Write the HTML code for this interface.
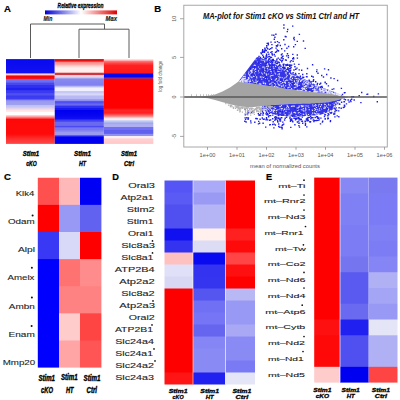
<!DOCTYPE html>
<html><head><meta charset="utf-8"><style>
html,body{margin:0;padding:0;background:#fff;width:400px;height:400px;overflow:hidden}
svg{display:block}
text{font-family:"Liberation Sans", sans-serif}
</style></head><body>
<svg width="400" height="400" viewBox="0 0 400 400">
<defs><linearGradient id="leg" x1="0" y1="0" x2="1" y2="0"><stop offset="0" stop-color="#0000d8"/><stop offset="0.5" stop-color="#ffffff"/><stop offset="1" stop-color="#e00000"/></linearGradient><linearGradient id="ga1" gradientUnits="userSpaceOnUse" x1="0" y1="59.10" x2="0" y2="143.90"><stop offset="0.0000" stop-color="#0a0af0"/><stop offset="0.1616" stop-color="#1010f0"/><stop offset="0.1710" stop-color="#a0a0f0"/><stop offset="0.1792" stop-color="#ffd0d8"/><stop offset="0.1899" stop-color="#ffb0b0"/><stop offset="0.1969" stop-color="#e80808"/><stop offset="0.2276" stop-color="#ff0a0a"/><stop offset="0.2382" stop-color="#9060c0"/><stop offset="0.2500" stop-color="#7070f0"/><stop offset="0.2724" stop-color="#6a6af0"/><stop offset="0.2818" stop-color="#4848f0"/><stop offset="0.3031" stop-color="#4848f0"/><stop offset="0.3113" stop-color="#3030f0"/><stop offset="0.3337" stop-color="#3030f0"/><stop offset="0.3408" stop-color="#2020f0"/><stop offset="0.3644" stop-color="#2020f0"/><stop offset="0.3715" stop-color="#3a3af0"/><stop offset="0.3998" stop-color="#3a3af0"/><stop offset="0.4068" stop-color="#5050f0"/><stop offset="0.4269" stop-color="#5050f0"/><stop offset="0.4328" stop-color="#3838f0"/><stop offset="0.4705" stop-color="#4040f0"/><stop offset="0.4823" stop-color="#8080f0"/><stop offset="0.4941" stop-color="#9898f0"/><stop offset="0.5354" stop-color="#a0a0f0"/><stop offset="0.5472" stop-color="#c0c0f5"/><stop offset="0.5649" stop-color="#c8c8f2"/><stop offset="0.5767" stop-color="#d8d0f0"/><stop offset="0.6002" stop-color="#ffe0e0"/><stop offset="0.6179" stop-color="#ffeaea"/><stop offset="0.6297" stop-color="#ffffff"/><stop offset="0.6533" stop-color="#ffffff"/><stop offset="0.6651" stop-color="#ffd0d0"/><stop offset="0.6828" stop-color="#ff9090"/><stop offset="0.7005" stop-color="#ff4040"/><stop offset="0.7123" stop-color="#ff0808"/><stop offset="0.8833" stop-color="#ff0a0a"/><stop offset="0.9422" stop-color="#ff3030"/><stop offset="1.0000" stop-color="#ff4848"/></linearGradient><linearGradient id="ga2" gradientUnits="userSpaceOnUse" x1="0" y1="59.10" x2="0" y2="143.90"><stop offset="0.0000" stop-color="#d80000"/><stop offset="0.0248" stop-color="#e81818"/><stop offset="0.0342" stop-color="#ff8080"/><stop offset="0.0637" stop-color="#ffa8a8"/><stop offset="0.0814" stop-color="#ffd0d0"/><stop offset="0.1073" stop-color="#fff0f0"/><stop offset="0.1545" stop-color="#fff0f0"/><stop offset="0.1639" stop-color="#e06060"/><stop offset="0.1733" stop-color="#c02020"/><stop offset="0.1851" stop-color="#d04050"/><stop offset="0.1934" stop-color="#f0c8d8"/><stop offset="0.2134" stop-color="#e0d8f0"/><stop offset="0.2229" stop-color="#b0b0f0"/><stop offset="0.2406" stop-color="#8888f0"/><stop offset="0.3054" stop-color="#8080f0"/><stop offset="0.3172" stop-color="#a0a0f0"/><stop offset="0.3290" stop-color="#d0d0f5"/><stop offset="0.3467" stop-color="#f0f0ff"/><stop offset="0.3703" stop-color="#f0f0ff"/><stop offset="0.3821" stop-color="#c8c8f5"/><stop offset="0.3974" stop-color="#c8c8f5"/><stop offset="0.4092" stop-color="#d8d8f8"/><stop offset="0.4233" stop-color="#d8d8f8"/><stop offset="0.4351" stop-color="#b8b8f5"/><stop offset="0.4682" stop-color="#b8b8f5"/><stop offset="0.4800" stop-color="#9090f0"/><stop offset="0.4894" stop-color="#9090f0"/><stop offset="0.5012" stop-color="#5050f0"/><stop offset="0.5177" stop-color="#5050f0"/><stop offset="0.5283" stop-color="#6868f0"/><stop offset="0.5436" stop-color="#6868f0"/><stop offset="0.5531" stop-color="#3030f0"/><stop offset="0.5708" stop-color="#3030f0"/><stop offset="0.5802" stop-color="#1818f0"/><stop offset="0.5979" stop-color="#1818f0"/><stop offset="0.6061" stop-color="#0000f0"/><stop offset="0.6592" stop-color="#0505f0"/><stop offset="0.7064" stop-color="#1010f0"/><stop offset="0.7182" stop-color="#4040f0"/><stop offset="0.7323" stop-color="#4040f0"/><stop offset="0.7441" stop-color="#6a6af0"/><stop offset="0.7818" stop-color="#6a6af0"/><stop offset="0.7913" stop-color="#4a4af0"/><stop offset="0.8007" stop-color="#4a4af0"/><stop offset="0.8101" stop-color="#7878f0"/><stop offset="0.8361" stop-color="#7878f0"/><stop offset="0.8455" stop-color="#8a8af0"/><stop offset="0.8538" stop-color="#8a8af0"/><stop offset="0.8632" stop-color="#9a9af0"/><stop offset="0.8927" stop-color="#9a9af0"/><stop offset="0.9021" stop-color="#5050f0"/><stop offset="0.9127" stop-color="#2020f0"/><stop offset="0.9210" stop-color="#0000f0"/><stop offset="0.9965" stop-color="#0000f0"/></linearGradient><linearGradient id="ga3" gradientUnits="userSpaceOnUse" x1="0" y1="59.10" x2="0" y2="143.90"><stop offset="0.0024" stop-color="#ffe0e0"/><stop offset="0.0165" stop-color="#ffb0b0"/><stop offset="0.0283" stop-color="#ff7070"/><stop offset="0.0519" stop-color="#ff4040"/><stop offset="0.0755" stop-color="#ff2020"/><stop offset="0.1580" stop-color="#ff1818"/><stop offset="0.1675" stop-color="#c01060"/><stop offset="0.1757" stop-color="#0505f0"/><stop offset="0.2111" stop-color="#0505f0"/><stop offset="0.2229" stop-color="#6040c0"/><stop offset="0.2370" stop-color="#ff0000"/><stop offset="0.5708" stop-color="#ff0000"/><stop offset="0.5884" stop-color="#ff1010"/><stop offset="0.6002" stop-color="#ff2828"/><stop offset="0.6356" stop-color="#ff2020"/><stop offset="0.6545" stop-color="#ff5050"/><stop offset="0.6769" stop-color="#ff9090"/><stop offset="0.6946" stop-color="#ffd8d8"/><stop offset="0.7040" stop-color="#fff0f0"/><stop offset="0.7182" stop-color="#f0f0f8"/><stop offset="0.7276" stop-color="#c0c8f0"/><stop offset="0.7417" stop-color="#c0c8f0"/><stop offset="0.7512" stop-color="#a0a8f0"/><stop offset="0.7653" stop-color="#a0a8f0"/><stop offset="0.7724" stop-color="#b0b0f0"/><stop offset="0.7948" stop-color="#b0b0f0"/><stop offset="0.8042" stop-color="#7070f0"/><stop offset="0.8290" stop-color="#7070f0"/><stop offset="0.8384" stop-color="#6060f0"/><stop offset="0.8762" stop-color="#6060f0"/><stop offset="0.8856" stop-color="#9090f0"/><stop offset="0.9021" stop-color="#9090f0"/><stop offset="0.9127" stop-color="#f8f0f8"/><stop offset="0.9304" stop-color="#f8f0f8"/><stop offset="0.9399" stop-color="#ffd0d0"/><stop offset="0.9941" stop-color="#ffc8c8"/></linearGradient><linearGradient id="hc1" gradientUnits="userSpaceOnUse" x1="0" y1="177.75" x2="0" y2="367.60"><stop offset="0.0000" stop-color="#ff5050"/><stop offset="0.1402" stop-color="#ff5050"/><stop offset="0.1455" stop-color="#ff0000"/><stop offset="0.2831" stop-color="#ff0000"/><stop offset="0.2883" stop-color="#3838f5"/><stop offset="0.4259" stop-color="#3838f5"/><stop offset="0.4312" stop-color="#0000ff"/><stop offset="0.5688" stop-color="#0000ff"/><stop offset="0.5741" stop-color="#0000ff"/><stop offset="0.7117" stop-color="#0000ff"/><stop offset="0.7169" stop-color="#0000ff"/><stop offset="0.8545" stop-color="#0000ff"/><stop offset="0.8598" stop-color="#0000ff"/><stop offset="1.0000" stop-color="#0000ff"/></linearGradient><linearGradient id="hc2" gradientUnits="userSpaceOnUse" x1="0" y1="177.75" x2="0" y2="367.60"><stop offset="0.0000" stop-color="#ffb8b8"/><stop offset="0.1402" stop-color="#ffb8b8"/><stop offset="0.1455" stop-color="#9898f5"/><stop offset="0.2831" stop-color="#9898f5"/><stop offset="0.2883" stop-color="#d8d8f8"/><stop offset="0.4259" stop-color="#d8d8f8"/><stop offset="0.4312" stop-color="#ff7272"/><stop offset="0.5688" stop-color="#ff7272"/><stop offset="0.5741" stop-color="#ff8282"/><stop offset="0.7117" stop-color="#ff8282"/><stop offset="0.7169" stop-color="#ffcccc"/><stop offset="0.8545" stop-color="#ffcccc"/><stop offset="0.8598" stop-color="#ffa5a5"/><stop offset="1.0000" stop-color="#ffa5a5"/></linearGradient><linearGradient id="hc3" gradientUnits="userSpaceOnUse" x1="0" y1="177.75" x2="0" y2="367.60"><stop offset="0.0000" stop-color="#0000f5"/><stop offset="0.1402" stop-color="#0000f5"/><stop offset="0.1455" stop-color="#6262f0"/><stop offset="0.2831" stop-color="#6262f0"/><stop offset="0.2883" stop-color="#ff0000"/><stop offset="0.4259" stop-color="#ff0000"/><stop offset="0.4312" stop-color="#ff8c8c"/><stop offset="0.5688" stop-color="#ff8c8c"/><stop offset="0.5741" stop-color="#ff8282"/><stop offset="0.7117" stop-color="#ff8282"/><stop offset="0.7169" stop-color="#ff4444"/><stop offset="0.8545" stop-color="#ff4444"/><stop offset="0.8598" stop-color="#ff5555"/><stop offset="1.0000" stop-color="#ff5555"/></linearGradient><linearGradient id="hc4" gradientUnits="userSpaceOnUse" x1="0" y1="180.50" x2="0" y2="384.50"><stop offset="0.0000" stop-color="#5555f5"/><stop offset="0.0564" stop-color="#5555f5"/><stop offset="0.0613" stop-color="#5a5af5"/><stop offset="0.1152" stop-color="#5a5af5"/><stop offset="0.1201" stop-color="#5050f0"/><stop offset="0.1740" stop-color="#5050f0"/><stop offset="0.1789" stop-color="#5050f0"/><stop offset="0.2328" stop-color="#5050f0"/><stop offset="0.2377" stop-color="#1010f0"/><stop offset="0.2917" stop-color="#1010f0"/><stop offset="0.2966" stop-color="#3333f0"/><stop offset="0.3505" stop-color="#3333f0"/><stop offset="0.3554" stop-color="#ffc0c0"/><stop offset="0.4093" stop-color="#ffc0c0"/><stop offset="0.4142" stop-color="#e0e0f8"/><stop offset="0.4681" stop-color="#e0e0f8"/><stop offset="0.4730" stop-color="#d8d8f5"/><stop offset="0.5270" stop-color="#d8d8f5"/><stop offset="0.5319" stop-color="#ff0000"/><stop offset="0.5858" stop-color="#ff0000"/><stop offset="0.5907" stop-color="#ff0000"/><stop offset="0.6446" stop-color="#ff0000"/><stop offset="0.6495" stop-color="#ff0000"/><stop offset="0.7034" stop-color="#ff0000"/><stop offset="0.7083" stop-color="#ff0000"/><stop offset="0.7623" stop-color="#ff0000"/><stop offset="0.7672" stop-color="#ff0000"/><stop offset="0.8211" stop-color="#ff0000"/><stop offset="0.8260" stop-color="#ff0000"/><stop offset="0.8799" stop-color="#ff0000"/><stop offset="0.8848" stop-color="#ff0000"/><stop offset="0.9387" stop-color="#ff0000"/><stop offset="0.9436" stop-color="#ff1515"/><stop offset="1.0000" stop-color="#ff1515"/></linearGradient><linearGradient id="hc5" gradientUnits="userSpaceOnUse" x1="0" y1="180.50" x2="0" y2="384.50"><stop offset="0.0000" stop-color="#aaaaf8"/><stop offset="0.0564" stop-color="#aaaaf8"/><stop offset="0.0613" stop-color="#9a9af5"/><stop offset="0.1152" stop-color="#9a9af5"/><stop offset="0.1201" stop-color="#b5b5f5"/><stop offset="0.1740" stop-color="#b5b5f5"/><stop offset="0.1789" stop-color="#b5b5f5"/><stop offset="0.2328" stop-color="#b5b5f5"/><stop offset="0.2377" stop-color="#fff0ee"/><stop offset="0.2917" stop-color="#fff0ee"/><stop offset="0.2966" stop-color="#dcdcf5"/><stop offset="0.3505" stop-color="#dcdcf5"/><stop offset="0.3554" stop-color="#0a0af0"/><stop offset="0.4093" stop-color="#0a0af0"/><stop offset="0.4142" stop-color="#3333f0"/><stop offset="0.4681" stop-color="#3333f0"/><stop offset="0.4730" stop-color="#3535f0"/><stop offset="0.5270" stop-color="#3535f0"/><stop offset="0.5319" stop-color="#5555f0"/><stop offset="0.5858" stop-color="#5555f0"/><stop offset="0.5907" stop-color="#7070f5"/><stop offset="0.6446" stop-color="#7070f5"/><stop offset="0.6495" stop-color="#7575f5"/><stop offset="0.7034" stop-color="#7575f5"/><stop offset="0.7083" stop-color="#6565f0"/><stop offset="0.7623" stop-color="#6565f0"/><stop offset="0.7672" stop-color="#8585f5"/><stop offset="0.8211" stop-color="#8585f5"/><stop offset="0.8260" stop-color="#8a8af5"/><stop offset="0.8799" stop-color="#8a8af5"/><stop offset="0.8848" stop-color="#8a8af5"/><stop offset="0.9387" stop-color="#8a8af5"/><stop offset="0.9436" stop-color="#2020f0"/><stop offset="1.0000" stop-color="#2020f0"/></linearGradient><linearGradient id="hc6" gradientUnits="userSpaceOnUse" x1="0" y1="180.50" x2="0" y2="384.50"><stop offset="0.0000" stop-color="#ff0000"/><stop offset="0.0564" stop-color="#ff0000"/><stop offset="0.0613" stop-color="#ff0000"/><stop offset="0.1152" stop-color="#ff0000"/><stop offset="0.1201" stop-color="#ff0000"/><stop offset="0.1740" stop-color="#ff0000"/><stop offset="0.1789" stop-color="#ff0000"/><stop offset="0.2328" stop-color="#ff0000"/><stop offset="0.2377" stop-color="#ff2020"/><stop offset="0.2917" stop-color="#ff2020"/><stop offset="0.2966" stop-color="#ff0a0a"/><stop offset="0.3505" stop-color="#ff0a0a"/><stop offset="0.3554" stop-color="#ff4545"/><stop offset="0.4093" stop-color="#ff4545"/><stop offset="0.4142" stop-color="#ff1010"/><stop offset="0.4681" stop-color="#ff1010"/><stop offset="0.4730" stop-color="#ff0000"/><stop offset="0.5270" stop-color="#ff0000"/><stop offset="0.5319" stop-color="#b8b8f5"/><stop offset="0.5858" stop-color="#b8b8f5"/><stop offset="0.5907" stop-color="#9898f5"/><stop offset="0.6446" stop-color="#9898f5"/><stop offset="0.6495" stop-color="#9898f5"/><stop offset="0.7034" stop-color="#9898f5"/><stop offset="0.7083" stop-color="#a8a8f5"/><stop offset="0.7623" stop-color="#a8a8f5"/><stop offset="0.7672" stop-color="#8a8af5"/><stop offset="0.8211" stop-color="#8a8af5"/><stop offset="0.8260" stop-color="#8a8af5"/><stop offset="0.8799" stop-color="#8a8af5"/><stop offset="0.8848" stop-color="#7a7af5"/><stop offset="0.9387" stop-color="#7a7af5"/><stop offset="0.9436" stop-color="#e5e5f8"/><stop offset="1.0000" stop-color="#e5e5f8"/></linearGradient><linearGradient id="hc7" gradientUnits="userSpaceOnUse" x1="0" y1="177.60" x2="0" y2="382.60"><stop offset="0.0000" stop-color="#ff0000"/><stop offset="0.0745" stop-color="#ff0000"/><stop offset="0.0794" stop-color="#ff0000"/><stop offset="0.1514" stop-color="#ff0000"/><stop offset="0.1563" stop-color="#ff0000"/><stop offset="0.2283" stop-color="#ff0000"/><stop offset="0.2332" stop-color="#ff0000"/><stop offset="0.3053" stop-color="#ff0000"/><stop offset="0.3101" stop-color="#ff0000"/><stop offset="0.3822" stop-color="#ff0000"/><stop offset="0.3871" stop-color="#ff0000"/><stop offset="0.4591" stop-color="#ff0000"/><stop offset="0.4640" stop-color="#ff0000"/><stop offset="0.5360" stop-color="#ff0000"/><stop offset="0.5409" stop-color="#ff0000"/><stop offset="0.6129" stop-color="#ff0000"/><stop offset="0.6178" stop-color="#ff0000"/><stop offset="0.6899" stop-color="#ff0000"/><stop offset="0.6947" stop-color="#ff1010"/><stop offset="0.7668" stop-color="#ff1010"/><stop offset="0.7717" stop-color="#ff0808"/><stop offset="0.8437" stop-color="#ff0808"/><stop offset="0.8486" stop-color="#ff0808"/><stop offset="0.9206" stop-color="#ff0808"/><stop offset="0.9255" stop-color="#ffcccc"/><stop offset="1.0000" stop-color="#ffcccc"/></linearGradient><linearGradient id="hc8" gradientUnits="userSpaceOnUse" x1="0" y1="177.60" x2="0" y2="382.60"><stop offset="0.0000" stop-color="#8888f5"/><stop offset="0.0745" stop-color="#8888f5"/><stop offset="0.0794" stop-color="#8080f5"/><stop offset="0.1514" stop-color="#8080f5"/><stop offset="0.1563" stop-color="#8080f5"/><stop offset="0.2283" stop-color="#8080f5"/><stop offset="0.2332" stop-color="#7c7cf5"/><stop offset="0.3053" stop-color="#7c7cf5"/><stop offset="0.3101" stop-color="#7c7cf5"/><stop offset="0.3822" stop-color="#7c7cf5"/><stop offset="0.3871" stop-color="#7575f0"/><stop offset="0.4591" stop-color="#7575f0"/><stop offset="0.4640" stop-color="#5a5af0"/><stop offset="0.5360" stop-color="#5a5af0"/><stop offset="0.5409" stop-color="#5a5af0"/><stop offset="0.6129" stop-color="#5a5af0"/><stop offset="0.6178" stop-color="#6a6af0"/><stop offset="0.6899" stop-color="#6a6af0"/><stop offset="0.6947" stop-color="#2020f0"/><stop offset="0.7668" stop-color="#2020f0"/><stop offset="0.7717" stop-color="#5050f0"/><stop offset="0.8437" stop-color="#5050f0"/><stop offset="0.8486" stop-color="#5050f0"/><stop offset="0.9206" stop-color="#5050f0"/><stop offset="0.9255" stop-color="#0000f0"/><stop offset="1.0000" stop-color="#0000f0"/></linearGradient><linearGradient id="hc9" gradientUnits="userSpaceOnUse" x1="0" y1="177.60" x2="0" y2="382.60"><stop offset="0.0000" stop-color="#7a7af0"/><stop offset="0.0745" stop-color="#7a7af0"/><stop offset="0.0794" stop-color="#7b7bf5"/><stop offset="0.1514" stop-color="#7b7bf5"/><stop offset="0.1563" stop-color="#7b7bf5"/><stop offset="0.2283" stop-color="#7b7bf5"/><stop offset="0.2332" stop-color="#8080f5"/><stop offset="0.3053" stop-color="#8080f5"/><stop offset="0.3101" stop-color="#7c7cf5"/><stop offset="0.3822" stop-color="#7c7cf5"/><stop offset="0.3871" stop-color="#8585f5"/><stop offset="0.4591" stop-color="#8585f5"/><stop offset="0.4640" stop-color="#b0b0f5"/><stop offset="0.5360" stop-color="#b0b0f5"/><stop offset="0.5409" stop-color="#a5a5f5"/><stop offset="0.6129" stop-color="#a5a5f5"/><stop offset="0.6178" stop-color="#9898f5"/><stop offset="0.6899" stop-color="#9898f5"/><stop offset="0.6947" stop-color="#e5e5f8"/><stop offset="0.7668" stop-color="#e5e5f8"/><stop offset="0.7717" stop-color="#b0b0f5"/><stop offset="0.8437" stop-color="#b0b0f5"/><stop offset="0.8486" stop-color="#b0b0f5"/><stop offset="0.9206" stop-color="#b0b0f5"/><stop offset="0.9255" stop-color="#ff4444"/><stop offset="1.0000" stop-color="#ff4444"/></linearGradient></defs>
<rect width="400" height="400" fill="#ffffff"/>
<text x="4.00" y="12.20" font-size="9.60" stroke="#000" stroke-width="0.20" font-weight="bold" fill="#000" >A</text>
<text x="57.60" y="7.60" font-size="7.00" stroke="#000" stroke-width="0.30" font-weight="bold" font-style="italic" fill="#000" textLength="46.00" lengthAdjust="spacingAndGlyphs" >Relative expression</text>
<rect x="45.00" y="10.40" width="72.00" height="4.00" fill="url(#leg)" />
<text x="43.60" y="21.20" font-size="7.60" stroke="#1a1a1a" stroke-width="0.20" font-weight="bold" font-style="italic" fill="#1a1a1a" textLength="8.80" lengthAdjust="spacingAndGlyphs" >Min</text>
<text x="105.60" y="21.20" font-size="7.60" stroke="#1a1a1a" stroke-width="0.20" font-weight="bold" font-style="italic" fill="#1a1a1a" textLength="11.40" lengthAdjust="spacingAndGlyphs" >Max</text>
<path d="M30.5 58 V24 H104.5 V29.2 M79 58 V29.2 H129 V58" fill="none" stroke="#5a5a5a" stroke-width="1"/>
<rect x="6.00" y="59.10" width="48.75" height="84.80" fill="url(#ga1)" />
<rect x="54.75" y="59.10" width="49.15" height="84.80" fill="url(#ga2)" />
<rect x="103.90" y="59.10" width="49.40" height="84.80" fill="url(#ga3)" />
<text x="30.90" y="155.90" font-size="7.90" stroke="#000" stroke-width="0.40" text-anchor="middle" font-weight="bold" font-style="italic" fill="#000" textLength="16.20" lengthAdjust="spacingAndGlyphs" >Stim1</text>
<text x="31.50" y="165.80" font-size="7.90" stroke="#000" stroke-width="0.40" text-anchor="middle" font-weight="bold" font-style="italic" fill="#000" textLength="10.50" lengthAdjust="spacingAndGlyphs" >cKO</text>
<text x="82.50" y="156.00" font-size="7.90" stroke="#000" stroke-width="0.40" text-anchor="middle" font-weight="bold" font-style="italic" fill="#000" textLength="17.00" lengthAdjust="spacingAndGlyphs" >Stim1</text>
<text x="82.50" y="166.00" font-size="7.90" stroke="#000" stroke-width="0.40" text-anchor="middle" font-weight="bold" font-style="italic" fill="#000" textLength="7.00" lengthAdjust="spacingAndGlyphs" >HT</text>
<text x="129.00" y="156.00" font-size="7.90" stroke="#000" stroke-width="0.40" text-anchor="middle" font-weight="bold" font-style="italic" fill="#000" textLength="16.00" lengthAdjust="spacingAndGlyphs" >Stim1</text>
<text x="129.00" y="166.00" font-size="7.90" stroke="#000" stroke-width="0.40" text-anchor="middle" font-weight="bold" font-style="italic" fill="#000" textLength="10.00" lengthAdjust="spacingAndGlyphs" >Ctrl</text>
<text x="154.20" y="12.10" font-size="9.60" stroke="#000" stroke-width="0.20" font-weight="bold" fill="#000" >B</text>
<polygon points="185.0,96.8 200.0,96.4 208.0,95.8 215.0,94.5 222.5,91.5 230.0,87.5 235.0,84.0 238.5,81.5 255.0,84.0 266.0,85.5 281.0,87.8 296.0,90.0 311.0,91.8 326.0,93.0 335.0,94.3 342.0,96.0 348.0,96.8 348.0,97.3 342.0,98.5 336.0,100.5 328.0,102.2 315.0,103.2 300.0,103.7 285.0,104.3 270.0,105.2 260.0,106.5 250.0,107.3 240.0,106.4 230.0,104.2 222.0,102.0 215.0,99.9 208.0,98.3 200.0,97.6 185.0,97.3" fill="#a4a4a4"/>
<polygon points="238.5,81.5 240.0,79.5 241.5,77.5 243.0,75.5 244.5,73.5 246.0,71.5 247.5,69.5 249.0,67.5 250.5,65.5 252.0,63.5 253.5,61.5 255.0,59.5 256.5,57.4 258.0,57.1 259.5,57.5 261.0,58.0 262.5,58.4 264.0,58.9 265.5,59.3 267.0,59.8 268.5,60.3 270.0,61.1 271.5,62.0 273.0,62.9 274.5,63.8 276.0,64.7 277.5,65.7 279.0,66.6 280.5,67.5 282.0,68.3 283.5,69.0 285.0,69.7 286.5,70.4 288.0,71.2 289.5,71.9 291.0,72.6 292.5,73.3 294.0,74.0 295.5,74.8 297.0,75.5 298.5,76.2 300.0,76.9 301.5,77.7 303.0,78.4 304.5,79.1 306.0,79.9 307.5,80.6 309.0,81.3 310.5,82.1 312.0,82.8 313.5,83.6 315.0,84.4 316.5,85.2 318.0,86.0 319.5,86.8 321.0,87.3 322.5,87.8 324.0,88.3 325.5,88.7 327.0,89.3 328.5,89.8 330.0,90.4 331.5,91.0 333.0,91.5 334.5,92.1 336.0,92.7 337.5,93.4 339.0,94.1 340.5,94.7 342.0,95.4 343.5,95.9 345.0,96.4 345.0,96.4 343.5,96.2 342.0,96.0 340.5,95.6 339.0,95.3 337.5,94.9 336.0,94.5 334.5,94.2 333.0,94.0 331.5,93.8 330.0,93.6 328.5,93.4 327.0,93.1 325.5,93.0 324.0,92.8 322.5,92.7 321.0,92.6 319.5,92.5 318.0,92.4 316.5,92.2 315.0,92.1 313.5,92.0 312.0,91.9 310.5,91.7 309.0,91.6 307.5,91.4 306.0,91.2 304.5,91.0 303.0,90.8 301.5,90.7 300.0,90.5 298.5,90.3 297.0,90.1 295.5,89.9 294.0,89.7 292.5,89.5 291.0,89.3 289.5,89.0 288.0,88.8 286.5,88.6 285.0,88.4 283.5,88.2 282.0,87.9 280.5,87.7 279.0,87.5 277.5,87.3 276.0,87.0 274.5,86.8 273.0,86.6 271.5,86.3 270.0,86.1 268.5,85.9 267.0,85.7 265.5,85.4 264.0,85.2 262.5,85.0 261.0,84.8 259.5,84.6 258.0,84.4 256.5,84.2 255.0,84.0 253.5,83.8 252.0,83.5 250.5,83.3 249.0,83.1 247.5,82.9 246.0,82.6 244.5,82.4 243.0,82.2 241.5,82.0 240.0,81.7 238.5,81.5" fill="#3636e6"/>
<polygon points="262.0,109.2 263.5,110.2 265.0,111.1 266.5,111.9 268.0,112.3 269.5,112.7 271.0,113.2 272.5,113.8 274.0,114.3 275.5,114.8 277.0,115.4 278.5,115.7 280.0,115.8 281.5,115.9 283.0,116.0 284.5,116.1 286.0,116.2 287.5,116.3 289.0,116.4 290.5,116.6 292.0,116.7 293.5,116.8 295.0,116.9 296.5,116.8 298.0,116.7 299.5,116.5 301.0,116.4 302.5,116.3 304.0,116.2 305.5,116.1 307.0,116.0 308.5,115.9 310.0,115.8 311.5,115.7 313.0,115.5 314.5,115.4 316.0,115.3 317.5,115.1 319.0,114.9 320.5,114.7 322.0,114.2 323.5,113.7 325.0,113.2 326.5,112.7 328.0,112.2 329.5,111.5 331.0,110.8 332.5,109.8 334.0,108.3 335.5,106.7 337.0,105.0 338.5,103.2 340.0,101.2 341.5,99.2 343.0,98.3 344.5,98.0 346.0,97.7 347.5,97.4 347.5,97.4 346.0,97.7 344.5,98.0 343.0,98.3 341.5,98.7 340.0,99.2 338.5,99.7 337.0,100.2 335.5,100.6 334.0,100.9 332.5,101.2 331.0,101.6 329.5,101.9 328.0,102.2 326.5,102.3 325.0,102.4 323.5,102.5 322.0,102.7 320.5,102.8 319.0,102.9 317.5,103.0 316.0,103.1 314.5,103.2 313.0,103.3 311.5,103.3 310.0,103.4 308.5,103.4 307.0,103.5 305.5,103.5 304.0,103.6 302.5,103.6 301.0,103.7 299.5,103.7 298.0,103.8 296.5,103.8 295.0,103.9 293.5,104.0 292.0,104.0 290.5,104.1 289.0,104.1 287.5,104.2 286.0,104.3 284.5,104.3 283.0,104.4 281.5,104.5 280.0,104.6 278.5,104.7 277.0,104.8 275.5,104.9 274.0,105.0 272.5,105.0 271.0,105.1 269.5,105.3 268.0,105.5 266.5,105.7 265.0,105.8 263.5,106.0 262.0,106.2" fill="#3636e6"/>
<path d="M305.0 82.3h1.1v1.1h-1.1zM323.3 88.3h1.1v1.1h-1.1zM317.4 86.1h1.1v1.1h-1.1zM242.1 79.3h1.1v1.1h-1.1zM339.0 94.3h1.1v1.1h-1.1zM334.5 93.5h1.1v1.1h-1.1zM288.7 84.3h1.1v1.1h-1.1zM296.6 81.4h1.1v1.1h-1.1zM240.4 80.8h1.1v1.1h-1.1zM268.6 62.4h1.1v1.1h-1.1zM320.2 91.2h1.1v1.1h-1.1zM323.5 91.7h1.1v1.1h-1.1zM304.4 89.1h1.1v1.1h-1.1zM239.2 80.6h1.1v1.1h-1.1zM261.2 78.7h1.1v1.1h-1.1zM331.5 92.6h1.1v1.1h-1.1zM296.2 79.7h1.1v1.1h-1.1zM260.7 59.5h1.1v1.1h-1.1zM312.2 83.2h1.1v1.1h-1.1zM333.7 93.1h1.1v1.1h-1.1zM277.3 83.2h1.1v1.1h-1.1zM254.4 81.9h1.1v1.1h-1.1zM270.9 71.2h1.1v1.1h-1.1zM239.4 80.6h1.1v1.1h-1.1zM274.8 79.4h1.1v1.1h-1.1zM325.8 90.7h1.1v1.1h-1.1zM272.5 74.7h1.1v1.1h-1.1zM313.7 91.1h1.1v1.1h-1.1zM241.4 78.6h1.1v1.1h-1.1zM328.6 92.8h1.1v1.1h-1.1zM322.5 90.6h1.1v1.1h-1.1zM300.3 89.9h1.1v1.1h-1.1zM244.0 80.5h1.1v1.1h-1.1zM259.8 64.1h1.1v1.1h-1.1zM337.5 93.5h1.1v1.1h-1.1zM275.5 78.6h1.1v1.1h-1.1zM294.6 77.7h1.1v1.1h-1.1zM250.5 69.9h1.1v1.1h-1.1zM323.5 88.7h1.1v1.1h-1.1zM242.9 76.0h1.1v1.1h-1.1zM248.7 77.6h1.1v1.1h-1.1zM303.7 79.7h1.1v1.1h-1.1zM275.0 65.8h1.1v1.1h-1.1zM296.8 85.2h1.1v1.1h-1.1zM272.6 81.9h1.1v1.1h-1.1zM247.3 80.5h1.1v1.1h-1.1zM312.1 82.9h1.1v1.1h-1.1zM256.1 82.4h1.1v1.1h-1.1zM295.6 83.5h1.1v1.1h-1.1zM264.2 69.4h1.1v1.1h-1.1zM326.6 91.0h1.1v1.1h-1.1zM283.7 86.7h1.1v1.1h-1.1zM336.1 94.0h1.1v1.1h-1.1zM291.3 75.3h1.1v1.1h-1.1zM252.8 67.9h1.1v1.1h-1.1zM339.7 94.6h1.1v1.1h-1.1zM322.5 91.8h1.1v1.1h-1.1zM285.1 85.2h1.1v1.1h-1.1zM328.5 92.0h1.1v1.1h-1.1zM287.0 70.7h1.1v1.1h-1.1zM329.3 90.2h1.1v1.1h-1.1zM287.1 79.7h1.1v1.1h-1.1zM316.3 88.5h1.1v1.1h-1.1zM269.8 75.7h1.1v1.1h-1.1zM254.5 74.6h1.1v1.1h-1.1zM305.5 85.1h1.1v1.1h-1.1zM274.9 84.4h1.1v1.1h-1.1zM267.9 65.6h1.1v1.1h-1.1zM330.9 92.3h1.1v1.1h-1.1zM322.3 88.8h1.1v1.1h-1.1zM312.6 85.9h1.1v1.1h-1.1zM319.5 90.1h1.1v1.1h-1.1zM313.7 89.3h1.1v1.1h-1.1zM290.5 76.1h1.1v1.1h-1.1zM312.2 88.9h1.1v1.1h-1.1zM339.2 94.4h1.1v1.1h-1.1zM300.6 89.9h1.1v1.1h-1.1zM297.0 86.1h1.1v1.1h-1.1zM310.2 86.9h1.1v1.1h-1.1zM325.6 90.1h1.1v1.1h-1.1zM323.5 90.9h1.1v1.1h-1.1zM307.3 83.2h1.1v1.1h-1.1zM326.8 91.4h1.1v1.1h-1.1zM328.3 90.2h1.1v1.1h-1.1zM312.0 83.0h1.1v1.1h-1.1zM293.9 81.2h1.1v1.1h-1.1zM256.6 61.6h1.1v1.1h-1.1zM338.4 94.2h1.1v1.1h-1.1zM312.3 85.3h1.1v1.1h-1.1zM316.4 90.6h1.1v1.1h-1.1zM321.7 89.5h1.1v1.1h-1.1zM309.5 87.1h1.1v1.1h-1.1zM305.1 82.0h1.1v1.1h-1.1zM306.5 83.1h1.1v1.1h-1.1zM241.9 80.8h1.1v1.1h-1.1zM285.8 76.3h1.1v1.1h-1.1zM262.2 66.6h1.1v1.1h-1.1zM305.9 90.2h1.1v1.1h-1.1zM289.0 84.7h1.1v1.1h-1.1zM244.7 80.8h1.1v1.1h-1.1zM272.6 81.8h1.1v1.1h-1.1zM259.5 83.2h1.1v1.1h-1.1zM288.3 81.9h1.1v1.1h-1.1zM303.9 83.6h1.1v1.1h-1.1zM264.2 61.5h1.1v1.1h-1.1zM282.0 82.1h1.1v1.1h-1.1zM282.5 85.3h1.1v1.1h-1.1zM327.1 91.4h1.1v1.1h-1.1zM242.8 78.0h1.1v1.1h-1.1zM249.1 74.3h1.1v1.1h-1.1zM275.0 73.4h1.1v1.1h-1.1zM325.8 90.9h1.1v1.1h-1.1zM325.2 90.0h1.1v1.1h-1.1zM278.2 83.9h1.1v1.1h-1.1zM302.2 83.3h1.1v1.1h-1.1zM303.5 86.3h1.1v1.1h-1.1zM333.7 93.6h1.1v1.1h-1.1zM250.4 73.1h1.1v1.1h-1.1zM304.2 88.9h1.1v1.1h-1.1zM305.7 80.9h1.1v1.1h-1.1zM278.8 78.1h1.1v1.1h-1.1zM263.0 77.0h1.1v1.1h-1.1zM279.3 67.5h1.1v1.1h-1.1zM335.9 93.2h1.1v1.1h-1.1zM266.5 60.2h1.1v1.1h-1.1zM291.6 82.2h1.1v1.1h-1.1zM272.8 63.2h1.1v1.1h-1.1zM291.1 84.2h1.1v1.1h-1.1zM289.6 86.5h1.1v1.1h-1.1zM304.9 85.6h1.1v1.1h-1.1zM270.1 66.5h1.1v1.1h-1.1zM326.6 92.5h1.1v1.1h-1.1zM295.5 85.4h1.1v1.1h-1.1zM338.1 93.9h1.1v1.1h-1.1zM265.0 78.0h1.1v1.1h-1.1zM255.4 59.2h1.1v1.1h-1.1zM270.1 70.7h1.1v1.1h-1.1zM289.3 77.7h1.1v1.1h-1.1zM303.0 81.5h1.1v1.1h-1.1zM251.5 68.6h1.1v1.1h-1.1zM270.9 72.9h1.1v1.1h-1.1zM274.6 79.7h1.1v1.1h-1.1zM295.2 82.5h1.1v1.1h-1.1zM277.3 70.9h1.1v1.1h-1.1zM301.6 89.7h1.1v1.1h-1.1zM265.8 73.3h1.1v1.1h-1.1zM336.2 93.0h1.1v1.1h-1.1zM296.8 89.4h1.1v1.1h-1.1zM321.5 90.2h1.1v1.1h-1.1zM300.0 80.8h1.1v1.1h-1.1zM306.0 85.5h1.1v1.1h-1.1zM335.6 93.4h1.1v1.1h-1.1zM280.5 70.4h1.1v1.1h-1.1zM259.8 76.3h1.1v1.1h-1.1zM327.0 92.4h1.1v1.1h-1.1zM327.6 90.5h1.1v1.1h-1.1zM284.9 82.7h1.1v1.1h-1.1zM321.8 88.0h1.1v1.1h-1.1zM254.1 72.5h1.1v1.1h-1.1zM297.2 82.6h1.1v1.1h-1.1zM274.1 82.8h1.1v1.1h-1.1zM301.1 79.9h1.1v1.1h-1.1zM246.3 79.6h1.1v1.1h-1.1zM325.9 89.6h1.1v1.1h-1.1zM309.3 90.9h1.1v1.1h-1.1zM315.6 84.9h1.1v1.1h-1.1zM313.3 91.1h1.1v1.1h-1.1zM328.3 92.2h1.1v1.1h-1.1zM307.4 81.1h1.1v1.1h-1.1zM314.5 90.6h1.1v1.1h-1.1zM270.0 63.1h1.1v1.1h-1.1zM254.9 68.9h1.1v1.1h-1.1zM282.9 84.5h1.1v1.1h-1.1zM305.0 90.1h1.1v1.1h-1.1zM250.5 76.3h1.1v1.1h-1.1zM246.6 81.6h1.1v1.1h-1.1zM300.0 80.3h1.1v1.1h-1.1zM332.1 93.1h1.1v1.1h-1.1zM284.8 82.1h1.1v1.1h-1.1zM302.6 84.4h1.1v1.1h-1.1zM338.5 94.3h1.1v1.1h-1.1zM244.9 75.7h1.1v1.1h-1.1zM255.0 68.3h1.1v1.1h-1.1zM292.6 74.8h1.1v1.1h-1.1zM297.8 81.1h1.1v1.1h-1.1zM266.9 71.2h1.1v1.1h-1.1zM265.9 65.8h1.1v1.1h-1.1zM293.8 87.1h1.1v1.1h-1.1zM263.8 75.1h1.1v1.1h-1.1zM317.1 90.7h1.1v1.1h-1.1zM314.6 86.7h1.1v1.1h-1.1zM248.0 73.3h1.1v1.1h-1.1zM248.7 80.7h1.1v1.1h-1.1zM302.0 87.3h1.1v1.1h-1.1zM332.0 92.3h1.1v1.1h-1.1zM273.3 67.8h1.1v1.1h-1.1zM242.1 78.0h1.1v1.1h-1.1zM244.7 80.6h1.1v1.1h-1.1zM339.9 94.6h1.1v1.1h-1.1zM262.6 81.5h1.1v1.1h-1.1zM309.5 83.3h1.1v1.1h-1.1zM253.8 69.4h1.1v1.1h-1.1zM276.6 81.6h1.1v1.1h-1.1zM274.3 72.4h1.1v1.1h-1.1zM276.0 78.1h1.1v1.1h-1.1zM253.5 65.2h1.1v1.1h-1.1zM307.7 82.7h1.1v1.1h-1.1zM284.9 72.4h1.1v1.1h-1.1zM293.9 80.2h1.1v1.1h-1.1zM299.8 80.2h1.1v1.1h-1.1zM280.9 85.4h1.1v1.1h-1.1zM242.5 80.5h1.1v1.1h-1.1zM243.2 76.0h1.1v1.1h-1.1zM290.0 76.1h1.1v1.1h-1.1zM288.8 73.4h1.1v1.1h-1.1zM304.7 85.7h1.1v1.1h-1.1zM288.4 86.7h1.1v1.1h-1.1zM255.4 79.6h1.1v1.1h-1.1zM278.7 79.0h1.1v1.1h-1.1zM332.3 93.1h1.1v1.1h-1.1zM265.9 77.9h1.1v1.1h-1.1zM256.1 76.3h1.1v1.1h-1.1zM263.9 72.3h1.1v1.1h-1.1zM242.4 76.7h1.1v1.1h-1.1zM278.1 67.3h1.1v1.1h-1.1zM311.9 85.6h1.1v1.1h-1.1zM289.0 72.6h1.1v1.1h-1.1zM251.5 70.4h1.1v1.1h-1.1zM269.9 69.0h1.1v1.1h-1.1zM316.3 90.6h1.1v1.1h-1.1zM260.3 83.6h1.1v1.1h-1.1zM263.4 82.6h1.1v1.1h-1.1zM281.5 68.6h1.1v1.1h-1.1zM277.6 80.2h1.1v1.1h-1.1zM288.6 83.6h1.1v1.1h-1.1zM316.6 87.1h1.1v1.1h-1.1zM256.3 77.4h1.1v1.1h-1.1zM310.3 82.5h1.1v1.1h-1.1zM307.5 86.4h1.1v1.1h-1.1zM239.7 81.1h1.1v1.1h-1.1zM321.6 90.3h1.1v1.1h-1.1zM243.8 77.8h1.1v1.1h-1.1zM294.0 83.9h1.1v1.1h-1.1zM248.9 81.5h1.1v1.1h-1.1zM334.3 92.9h1.1v1.1h-1.1zM338.2 94.5h1.1v1.1h-1.1zM264.8 83.5h1.1v1.1h-1.1zM281.1 86.1h1.1v1.1h-1.1zM266.1 74.6h1.1v1.1h-1.1zM271.4 84.6h1.1v1.1h-1.1zM243.0 75.7h1.1v1.1h-1.1zM258.0 70.3h1.1v1.1h-1.1zM281.6 77.1h1.1v1.1h-1.1zM247.9 78.2h1.1v1.1h-1.1zM250.4 73.5h1.1v1.1h-1.1zM336.7 93.5h1.1v1.1h-1.1zM329.8 92.5h1.1v1.1h-1.1zM240.8 79.7h1.1v1.1h-1.1zM290.6 79.4h1.1v1.1h-1.1zM278.9 74.2h1.1v1.1h-1.1zM315.9 85.5h1.1v1.1h-1.1zM271.6 75.2h1.1v1.1h-1.1zM326.6 91.8h1.1v1.1h-1.1zM251.3 77.2h1.1v1.1h-1.1zM248.3 71.6h1.1v1.1h-1.1zM325.9 91.4h1.1v1.1h-1.1zM252.8 81.5h1.1v1.1h-1.1zM265.0 82.7h1.1v1.1h-1.1zM284.4 77.2h1.1v1.1h-1.1zM265.0 83.3h1.1v1.1h-1.1zM313.3 91.1h1.1v1.1h-1.1zM260.2 76.6h1.1v1.1h-1.1zM278.6 84.9h1.1v1.1h-1.1zM283.6 81.8h1.1v1.1h-1.1zM318.7 88.8h1.1v1.1h-1.1zM334.0 92.5h1.1v1.1h-1.1zM319.5 89.0h1.1v1.1h-1.1zM285.9 73.4h1.1v1.1h-1.1zM308.5 81.5h1.1v1.1h-1.1zM316.2 87.0h1.1v1.1h-1.1zM267.4 64.7h1.1v1.1h-1.1zM279.5 84.4h1.1v1.1h-1.1zM246.0 80.3h1.1v1.1h-1.1zM266.8 68.0h1.1v1.1h-1.1zM269.3 83.9h1.1v1.1h-1.1zM320.0 89.2h1.1v1.1h-1.1zM241.9 81.3h1.1v1.1h-1.1zM252.8 75.8h1.1v1.1h-1.1zM330.1 90.6h1.1v1.1h-1.1zM303.9 87.8h1.1v1.1h-1.1zM284.5 81.2h1.1v1.1h-1.1zM274.0 85.9h1.1v1.1h-1.1zM300.9 79.6h1.1v1.1h-1.1zM316.0 91.1h1.1v1.1h-1.1zM295.2 86.9h1.1v1.1h-1.1zM314.2 88.2h1.1v1.1h-1.1zM338.5 94.0h1.1v1.1h-1.1zM251.5 77.0h1.1v1.1h-1.1zM336.0 93.4h1.1v1.1h-1.1zM285.0 79.9h1.1v1.1h-1.1zM320.4 87.4h1.1v1.1h-1.1zM295.5 75.2h1.1v1.1h-1.1zM302.2 89.0h1.1v1.1h-1.1zM325.3 90.9h1.1v1.1h-1.1zM244.5 73.6h1.1v1.1h-1.1zM242.5 78.5h1.1v1.1h-1.1zM290.1 74.1h1.1v1.1h-1.1zM280.6 83.0h1.1v1.1h-1.1zM268.4 80.3h1.1v1.1h-1.1zM298.6 85.0h1.1v1.1h-1.1zM318.6 90.6h1.1v1.1h-1.1zM276.3 81.2h1.1v1.1h-1.1zM328.1 90.1h1.1v1.1h-1.1zM304.5 86.0h1.1v1.1h-1.1zM254.2 64.4h1.1v1.1h-1.1zM291.0 88.1h1.1v1.1h-1.1zM257.0 81.1h1.1v1.1h-1.1zM315.1 85.2h1.1v1.1h-1.1zM260.1 63.1h1.1v1.1h-1.1zM273.4 70.4h1.1v1.1h-1.1zM330.5 91.6h1.1v1.1h-1.1zM323.8 90.8h1.1v1.1h-1.1zM240.1 80.3h1.1v1.1h-1.1zM301.2 87.8h1.1v1.1h-1.1zM280.2 80.9h1.1v1.1h-1.1zM241.9 80.1h1.1v1.1h-1.1zM279.6 77.5h1.1v1.1h-1.1zM313.6 88.4h1.1v1.1h-1.1zM325.4 89.0h1.1v1.1h-1.1zM312.4 85.8h1.1v1.1h-1.1zM295.9 77.9h1.1v1.1h-1.1zM277.5 74.2h1.1v1.1h-1.1zM311.0 86.6h1.1v1.1h-1.1zM269.1 83.5h1.1v1.1h-1.1zM248.3 77.5h1.1v1.1h-1.1zM300.5 80.3h1.1v1.1h-1.1zM314.7 89.3h1.1v1.1h-1.1zM337.5 94.1h1.1v1.1h-1.1zM314.9 91.1h1.1v1.1h-1.1zM318.9 88.2h1.1v1.1h-1.1zM334.1 92.5h1.1v1.1h-1.1zM327.9 90.4h1.1v1.1h-1.1zM303.8 88.0h1.1v1.1h-1.1zM293.8 75.5h1.1v1.1h-1.1zM264.3 59.7h1.1v1.1h-1.1zM296.7 84.0h1.1v1.1h-1.1zM239.3 80.8h1.1v1.1h-1.1zM257.9 66.4h1.1v1.1h-1.1zM334.4 92.2h1.1v1.1h-1.1zM304.0 86.0h1.1v1.1h-1.1zM250.5 70.8h1.1v1.1h-1.1zM297.7 79.8h1.1v1.1h-1.1zM278.6 68.7h1.1v1.1h-1.1zM261.5 76.4h1.1v1.1h-1.1zM267.4 69.5h1.1v1.1h-1.1zM334.1 93.4h1.1v1.1h-1.1zM306.1 82.4h1.1v1.1h-1.1zM262.8 82.9h1.1v1.1h-1.1zM299.0 78.7h1.1v1.1h-1.1zM332.1 91.8h1.1v1.1h-1.1zM283.2 79.6h1.1v1.1h-1.1zM295.0 76.0h1.1v1.1h-1.1zM271.0 79.0h1.1v1.1h-1.1zM303.2 78.9h1.1v1.1h-1.1zM258.8 83.2h1.1v1.1h-1.1zM251.3 72.5h1.1v1.1h-1.1zM303.0 88.1h1.1v1.1h-1.1zM259.2 68.2h1.1v1.1h-1.1zM307.5 83.8h1.1v1.1h-1.1zM316.3 91.3h1.1v1.1h-1.1zM290.4 75.0h1.1v1.1h-1.1zM272.8 66.2h1.1v1.1h-1.1zM307.4 81.3h1.1v1.1h-1.1zM263.3 66.5h1.1v1.1h-1.1zM328.1 91.3h1.1v1.1h-1.1zM249.7 79.6h1.1v1.1h-1.1zM255.6 81.3h1.1v1.1h-1.1zM255.1 68.6h1.1v1.1h-1.1zM250.1 70.0h1.1v1.1h-1.1zM317.0 86.6h1.1v1.1h-1.1zM324.2 89.5h1.1v1.1h-1.1zM337.0 93.2h1.1v1.1h-1.1zM305.3 79.9h1.1v1.1h-1.1zM250.0 81.0h1.1v1.1h-1.1zM245.8 80.0h1.1v1.1h-1.1zM278.7 77.5h1.1v1.1h-1.1zM311.1 84.7h1.1v1.1h-1.1zM247.9 77.0h1.1v1.1h-1.1zM296.6 84.2h1.1v1.1h-1.1zM251.5 71.8h1.1v1.1h-1.1zM278.7 72.9h1.1v1.1h-1.1zM291.5 73.4h1.1v1.1h-1.1zM339.2 94.8h1.1v1.1h-1.1zM319.5 88.2h1.1v1.1h-1.1zM270.4 82.8h1.1v1.1h-1.1zM289.8 82.7h1.1v1.1h-1.1zM317.2 86.0h1.1v1.1h-1.1zM279.5 81.2h1.1v1.1h-1.1zM291.9 77.8h1.1v1.1h-1.1zM322.6 89.7h1.1v1.1h-1.1zM270.4 77.5h1.1v1.1h-1.1zM328.9 91.4h1.1v1.1h-1.1zM244.3 78.4h1.1v1.1h-1.1zM264.2 67.6h1.1v1.1h-1.1zM246.8 79.1h1.1v1.1h-1.1zM249.2 75.3h1.1v1.1h-1.1zM296.4 84.0h1.1v1.1h-1.1zM338.0 94.4h1.1v1.1h-1.1zM276.7 69.2h1.1v1.1h-1.1zM239.5 80.4h1.1v1.1h-1.1zM277.3 86.4h1.1v1.1h-1.1zM265.6 73.2h1.1v1.1h-1.1zM279.6 76.7h1.1v1.1h-1.1zM244.6 80.0h1.1v1.1h-1.1zM285.9 79.6h1.1v1.1h-1.1zM248.0 78.6h1.1v1.1h-1.1zM311.8 87.0h1.1v1.1h-1.1zM244.6 78.6h1.1v1.1h-1.1zM321.5 90.1h1.1v1.1h-1.1zM301.9 79.1h1.1v1.1h-1.1zM307.4 84.3h1.1v1.1h-1.1zM242.8 81.5h1.1v1.1h-1.1zM320.6 90.1h1.1v1.1h-1.1zM331.7 91.4h1.1v1.1h-1.1zM336.0 93.6h1.1v1.1h-1.1zM319.2 87.2h1.1v1.1h-1.1zM254.7 65.0h1.1v1.1h-1.1zM283.7 69.6h1.1v1.1h-1.1zM262.0 73.4h1.1v1.1h-1.1zM267.7 73.4h1.1v1.1h-1.1zM269.4 69.0h1.1v1.1h-1.1zM252.1 79.7h1.1v1.1h-1.1zM287.5 87.0h1.1v1.1h-1.1zM279.4 68.9h1.1v1.1h-1.1zM332.8 93.1h1.1v1.1h-1.1zM241.0 78.8h1.1v1.1h-1.1zM302.5 88.6h1.1v1.1h-1.1zM264.1 61.0h1.1v1.1h-1.1zM338.4 94.6h1.1v1.1h-1.1zM258.6 72.5h1.1v1.1h-1.1zM267.3 66.1h1.1v1.1h-1.1zM278.5 70.9h1.1v1.1h-1.1zM255.1 71.0h1.1v1.1h-1.1zM313.4 90.8h1.1v1.1h-1.1zM250.8 71.4h1.1v1.1h-1.1zM278.7 79.4h1.1v1.1h-1.1zM289.6 78.9h1.1v1.1h-1.1zM264.5 70.2h1.1v1.1h-1.1zM266.9 71.3h1.1v1.1h-1.1zM316.5 90.9h1.1v1.1h-1.1zM290.0 77.0h1.1v1.1h-1.1zM239.9 80.0h1.1v1.1h-1.1zM283.4 78.2h1.1v1.1h-1.1zM303.7 81.2h1.1v1.1h-1.1zM244.9 77.4h1.1v1.1h-1.1zM243.1 79.3h1.1v1.1h-1.1zM275.6 86.0h1.1v1.1h-1.1zM270.6 74.8h1.1v1.1h-1.1zM308.4 81.8h1.1v1.1h-1.1zM278.3 75.9h1.1v1.1h-1.1zM314.6 84.7h1.1v1.1h-1.1zM339.7 94.4h1.1v1.1h-1.1zM271.0 81.8h1.1v1.1h-1.1zM337.8 94.4h1.1v1.1h-1.1zM286.6 75.1h1.1v1.1h-1.1zM295.0 83.6h1.1v1.1h-1.1zM337.0 94.0h1.1v1.1h-1.1zM297.5 78.1h1.1v1.1h-1.1zM253.6 75.6h1.1v1.1h-1.1zM291.4 79.7h1.1v1.1h-1.1zM261.0 72.4h1.1v1.1h-1.1zM245.3 81.2h1.1v1.1h-1.1zM275.3 83.2h1.1v1.1h-1.1zM266.9 78.1h1.1v1.1h-1.1zM322.1 88.8h1.1v1.1h-1.1zM266.8 64.1h1.1v1.1h-1.1zM305.3 86.3h1.1v1.1h-1.1zM305.7 88.0h1.1v1.1h-1.1zM266.9 62.9h1.1v1.1h-1.1zM285.5 71.8h1.1v1.1h-1.1zM257.8 80.2h1.1v1.1h-1.1zM244.5 75.7h1.1v1.1h-1.1zM298.5 89.7h1.1v1.1h-1.1zM243.6 75.9h1.1v1.1h-1.1zM291.4 74.9h1.1v1.1h-1.1zM243.2 77.9h1.1v1.1h-1.1zM251.5 69.4h1.1v1.1h-1.1zM303.8 83.3h1.1v1.1h-1.1zM262.5 59.8h1.1v1.1h-1.1zM271.5 106.1h1.1v1.1h-1.1zM320.8 104.3h1.1v1.1h-1.1zM267.7 108.9h1.1v1.1h-1.1zM317.8 113.8h1.1v1.1h-1.1zM324.0 103.7h1.1v1.1h-1.1zM317.3 113.3h1.1v1.1h-1.1zM272.4 111.7h1.1v1.1h-1.1zM284.2 108.2h1.1v1.1h-1.1zM262.1 108.7h1.1v1.1h-1.1zM306.4 114.9h1.1v1.1h-1.1zM302.0 106.0h1.1v1.1h-1.1zM280.6 107.9h1.1v1.1h-1.1zM279.7 106.1h1.1v1.1h-1.1zM292.3 105.5h1.1v1.1h-1.1zM298.6 111.9h1.1v1.1h-1.1zM318.0 105.5h1.1v1.1h-1.1zM273.9 109.8h1.1v1.1h-1.1zM321.1 108.3h1.1v1.1h-1.1zM311.3 114.6h1.1v1.1h-1.1zM274.5 107.9h1.1v1.1h-1.1zM304.5 110.5h1.1v1.1h-1.1zM339.4 101.0h1.1v1.1h-1.1zM319.0 108.2h1.1v1.1h-1.1zM329.4 110.0h1.1v1.1h-1.1zM287.2 106.0h1.1v1.1h-1.1zM284.3 108.9h1.1v1.1h-1.1zM338.5 101.0h1.1v1.1h-1.1zM316.1 111.1h1.1v1.1h-1.1zM272.0 111.7h1.1v1.1h-1.1zM290.9 105.8h1.1v1.1h-1.1zM316.4 113.4h1.1v1.1h-1.1zM312.1 104.4h1.1v1.1h-1.1zM295.0 112.4h1.1v1.1h-1.1zM324.3 105.7h1.1v1.1h-1.1zM297.1 108.4h1.1v1.1h-1.1zM270.2 106.2h1.1v1.1h-1.1zM323.6 107.4h1.1v1.1h-1.1zM336.8 101.0h1.1v1.1h-1.1zM287.9 106.8h1.1v1.1h-1.1zM330.0 110.3h1.1v1.1h-1.1zM305.5 105.3h1.1v1.1h-1.1zM297.8 107.1h1.1v1.1h-1.1zM264.3 108.8h1.1v1.1h-1.1zM286.9 106.0h1.1v1.1h-1.1zM306.0 115.3h1.1v1.1h-1.1zM302.1 105.4h1.1v1.1h-1.1zM328.1 103.8h1.1v1.1h-1.1zM308.2 104.9h1.1v1.1h-1.1zM308.7 109.1h1.1v1.1h-1.1zM285.4 111.0h1.1v1.1h-1.1zM298.8 106.8h1.1v1.1h-1.1zM306.3 115.1h1.1v1.1h-1.1zM294.8 112.3h1.1v1.1h-1.1zM290.0 114.3h1.1v1.1h-1.1zM307.5 105.6h1.1v1.1h-1.1zM266.6 111.5h1.1v1.1h-1.1zM302.1 109.5h1.1v1.1h-1.1zM340.9 99.7h1.1v1.1h-1.1zM305.0 107.5h1.1v1.1h-1.1zM326.0 105.4h1.1v1.1h-1.1zM302.5 113.4h1.1v1.1h-1.1zM314.0 105.3h1.1v1.1h-1.1zM279.4 112.5h1.1v1.1h-1.1zM324.7 104.0h1.1v1.1h-1.1zM273.5 106.9h1.1v1.1h-1.1zM269.7 108.9h1.1v1.1h-1.1zM315.3 113.7h1.1v1.1h-1.1zM276.0 112.1h1.1v1.1h-1.1zM271.0 110.1h1.1v1.1h-1.1zM283.7 108.9h1.1v1.1h-1.1zM266.5 110.3h1.1v1.1h-1.1zM272.5 111.8h1.1v1.1h-1.1zM290.9 111.7h1.1v1.1h-1.1zM317.0 109.2h1.1v1.1h-1.1zM337.1 104.5h1.1v1.1h-1.1zM286.3 108.6h1.1v1.1h-1.1zM337.4 101.1h1.1v1.1h-1.1zM298.1 109.4h1.1v1.1h-1.1zM273.0 111.0h1.1v1.1h-1.1zM327.1 109.9h1.1v1.1h-1.1zM262.1 109.2h1.1v1.1h-1.1zM288.9 114.7h1.1v1.1h-1.1zM318.9 108.3h1.1v1.1h-1.1zM334.0 106.0h1.1v1.1h-1.1zM291.2 113.4h1.1v1.1h-1.1zM305.4 112.6h1.1v1.1h-1.1zM314.8 113.0h1.1v1.1h-1.1zM275.7 110.1h1.1v1.1h-1.1zM262.1 108.8h1.1v1.1h-1.1zM328.3 110.5h1.1v1.1h-1.1zM265.7 109.1h1.1v1.1h-1.1zM303.2 105.5h1.1v1.1h-1.1zM279.4 115.5h1.1v1.1h-1.1zM335.3 102.5h1.1v1.1h-1.1zM333.3 106.4h1.1v1.1h-1.1zM295.1 112.5h1.1v1.1h-1.1zM281.7 108.0h1.1v1.1h-1.1zM262.9 108.7h1.1v1.1h-1.1zM312.0 112.6h1.1v1.1h-1.1zM305.3 109.3h1.1v1.1h-1.1zM288.4 113.3h1.1v1.1h-1.1zM294.1 111.8h1.1v1.1h-1.1zM327.2 107.1h1.1v1.1h-1.1zM321.0 103.9h1.1v1.1h-1.1zM284.4 114.3h1.1v1.1h-1.1zM274.7 105.9h1.1v1.1h-1.1zM263.2 109.2h1.1v1.1h-1.1zM271.1 109.1h1.1v1.1h-1.1zM299.7 114.1h1.1v1.1h-1.1zM303.0 110.5h1.1v1.1h-1.1zM264.1 109.7h1.1v1.1h-1.1zM328.0 108.6h1.1v1.1h-1.1zM333.8 105.8h1.1v1.1h-1.1zM323.6 112.1h1.1v1.1h-1.1zM315.1 103.9h1.1v1.1h-1.1zM338.1 103.7h1.1v1.1h-1.1zM279.3 105.8h1.1v1.1h-1.1zM291.2 105.8h1.1v1.1h-1.1zM293.8 105.6h1.1v1.1h-1.1zM280.9 105.1h1.1v1.1h-1.1zM298.9 107.9h1.1v1.1h-1.1zM324.7 107.0h1.1v1.1h-1.1zM276.3 114.6h1.1v1.1h-1.1zM338.9 101.8h1.1v1.1h-1.1zM280.7 109.4h1.1v1.1h-1.1zM300.8 109.2h1.1v1.1h-1.1zM264.3 108.4h1.1v1.1h-1.1zM328.0 109.3h1.1v1.1h-1.1zM336.0 104.5h1.1v1.1h-1.1zM327.6 111.1h1.1v1.1h-1.1zM340.9 99.9h1.1v1.1h-1.1zM297.8 112.5h1.1v1.1h-1.1zM318.6 113.6h1.1v1.1h-1.1zM323.4 107.8h1.1v1.1h-1.1zM278.4 108.6h1.1v1.1h-1.1zM283.5 112.5h1.1v1.1h-1.1zM328.2 104.5h1.1v1.1h-1.1zM307.9 114.0h1.1v1.1h-1.1zM293.4 105.6h1.1v1.1h-1.1zM314.1 108.0h1.1v1.1h-1.1zM274.4 108.0h1.1v1.1h-1.1zM262.6 107.1h1.1v1.1h-1.1zM298.6 105.6h1.1v1.1h-1.1zM262.5 108.3h1.1v1.1h-1.1zM333.7 103.8h1.1v1.1h-1.1zM268.9 106.9h1.1v1.1h-1.1zM262.6 106.8h1.1v1.1h-1.1zM313.8 112.6h1.1v1.1h-1.1zM303.1 113.9h1.1v1.1h-1.1zM300.8 115.4h1.1v1.1h-1.1zM314.3 110.0h1.1v1.1h-1.1zM276.7 109.5h1.1v1.1h-1.1zM299.9 114.3h1.1v1.1h-1.1zM281.7 108.2h1.1v1.1h-1.1zM332.2 102.4h1.1v1.1h-1.1zM308.2 106.6h1.1v1.1h-1.1zM319.2 110.2h1.1v1.1h-1.1zM270.1 111.0h1.1v1.1h-1.1zM297.0 108.3h1.1v1.1h-1.1zM335.7 105.3h1.1v1.1h-1.1zM288.6 112.6h1.1v1.1h-1.1zM272.6 109.8h1.1v1.1h-1.1zM269.1 110.2h1.1v1.1h-1.1zM340.8 99.9h1.1v1.1h-1.1zM265.5 108.9h1.1v1.1h-1.1zM302.4 109.5h1.1v1.1h-1.1zM275.0 108.0h1.1v1.1h-1.1zM300.7 105.1h1.1v1.1h-1.1zM320.0 106.1h1.1v1.1h-1.1zM287.0 105.8h1.1v1.1h-1.1zM288.0 115.6h1.1v1.1h-1.1zM287.1 105.8h1.1v1.1h-1.1zM291.7 116.0h1.1v1.1h-1.1zM269.6 108.1h1.1v1.1h-1.1zM280.0 112.4h1.1v1.1h-1.1zM301.7 105.3h1.1v1.1h-1.1zM336.2 102.6h1.1v1.1h-1.1zM321.0 108.3h1.1v1.1h-1.1zM337.0 100.9h1.1v1.1h-1.1zM281.6 108.1h1.1v1.1h-1.1zM284.7 114.1h1.1v1.1h-1.1zM305.2 108.2h1.1v1.1h-1.1zM305.6 114.2h1.1v1.1h-1.1zM311.0 109.2h1.1v1.1h-1.1zM318.5 110.5h1.1v1.1h-1.1zM296.9 109.6h1.1v1.1h-1.1zM273.3 109.3h1.1v1.1h-1.1zM337.6 101.6h1.1v1.1h-1.1zM293.4 111.9h1.1v1.1h-1.1zM312.8 105.8h1.1v1.1h-1.1zM300.3 113.2h1.1v1.1h-1.1zM265.6 106.8h1.1v1.1h-1.1zM327.0 111.6h1.1v1.1h-1.1zM267.8 106.5h1.1v1.1h-1.1zM315.9 107.0h1.1v1.1h-1.1zM318.5 103.8h1.1v1.1h-1.1zM301.3 106.1h1.1v1.1h-1.1zM290.6 112.9h1.1v1.1h-1.1zM305.9 114.3h1.1v1.1h-1.1zM334.4 105.4h1.1v1.1h-1.1zM334.9 102.3h1.1v1.1h-1.1zM302.8 108.0h1.1v1.1h-1.1zM315.7 104.9h1.1v1.1h-1.1zM338.1 101.5h1.1v1.1h-1.1zM329.4 111.0h1.1v1.1h-1.1zM295.6 115.1h1.1v1.1h-1.1zM273.2 111.9h1.1v1.1h-1.1zM324.5 107.7h1.1v1.1h-1.1zM285.9 106.7h1.1v1.1h-1.1zM297.4 115.9h1.1v1.1h-1.1zM296.6 107.5h1.1v1.1h-1.1zM315.3 108.8h1.1v1.1h-1.1zM314.8 109.0h1.1v1.1h-1.1zM286.6 105.1h1.1v1.1h-1.1zM332.4 107.2h1.1v1.1h-1.1zM283.0 110.5h1.1v1.1h-1.1zM312.0 109.8h1.1v1.1h-1.1zM339.5 101.4h1.1v1.1h-1.1zM288.4 108.6h1.1v1.1h-1.1zM314.6 105.6h1.1v1.1h-1.1zM265.9 108.9h1.1v1.1h-1.1zM285.5 110.8h1.1v1.1h-1.1zM265.9 107.5h1.1v1.1h-1.1zM329.8 104.3h1.1v1.1h-1.1z" fill="#ffffff" fill-opacity="0.85"/>
<path d="M324.4 81.8h1.4v1.4h-1.4zM270.5 66.5h1.4v1.4h-1.4zM284.4 68.1h1.4v1.4h-1.4zM320.0 82.6h1.4v1.4h-1.4zM262.1 54.6h1.4v1.4h-1.4zM268.4 57.9h1.4v1.4h-1.4zM271.6 76.4h1.4v1.4h-1.4zM312.3 80.7h1.4v1.4h-1.4zM294.7 43.9h1.4v1.4h-1.4zM260.8 53.0h1.4v1.4h-1.4zM302.1 76.6h1.4v1.4h-1.4zM288.6 70.3h1.4v1.4h-1.4zM289.0 64.2h1.4v1.4h-1.4zM293.7 63.4h1.4v1.4h-1.4zM305.8 75.9h1.4v1.4h-1.4zM330.2 77.3h1.4v1.4h-1.4zM275.7 51.1h1.4v1.4h-1.4zM281.9 66.8h1.4v1.4h-1.4zM287.7 55.1h1.4v1.4h-1.4zM264.4 48.5h1.4v1.4h-1.4zM281.0 48.0h1.4v1.4h-1.4zM280.2 65.6h1.4v1.4h-1.4zM277.1 44.3h1.4v1.4h-1.4zM277.4 50.4h1.4v1.4h-1.4zM271.4 53.4h1.4v1.4h-1.4zM263.6 74.5h1.4v1.4h-1.4zM275.2 33.6h1.4v1.4h-1.4zM275.4 47.4h1.4v1.4h-1.4zM293.3 69.3h1.4v1.4h-1.4zM289.1 70.2h1.4v1.4h-1.4zM276.0 62.5h1.4v1.4h-1.4zM279.2 64.1h1.4v1.4h-1.4zM271.2 43.9h1.4v1.4h-1.4zM298.2 63.7h1.4v1.4h-1.4zM333.4 77.9h1.4v1.4h-1.4zM263.3 50.6h1.4v1.4h-1.4zM270.7 73.4h1.4v1.4h-1.4zM255.3 61.6h1.4v1.4h-1.4zM273.6 53.8h1.4v1.4h-1.4zM289.5 71.3h1.4v1.4h-1.4zM270.2 59.9h1.4v1.4h-1.4zM269.1 58.4h1.4v1.4h-1.4zM288.8 67.8h1.4v1.4h-1.4zM272.6 58.7h1.4v1.4h-1.4zM274.5 61.9h1.4v1.4h-1.4zM282.4 55.4h1.4v1.4h-1.4zM343.7 92.1h1.4v1.4h-1.4zM278.4 41.9h1.4v1.4h-1.4zM283.1 39.0h1.4v1.4h-1.4zM275.4 69.8h1.4v1.4h-1.4zM331.5 88.7h1.4v1.4h-1.4zM264.2 49.8h1.4v1.4h-1.4zM296.7 57.4h1.4v1.4h-1.4zM316.8 82.7h1.4v1.4h-1.4zM351.2 96.1h1.4v1.4h-1.4zM285.3 64.9h1.4v1.4h-1.4zM274.8 51.7h1.4v1.4h-1.4zM249.9 67.9h1.4v1.4h-1.4zM308.8 80.3h1.4v1.4h-1.4zM271.3 47.1h1.4v1.4h-1.4zM277.6 57.4h1.4v1.4h-1.4zM272.2 64.2h1.4v1.4h-1.4zM295.2 73.7h1.4v1.4h-1.4zM293.0 58.0h1.4v1.4h-1.4zM276.7 62.8h1.4v1.4h-1.4zM288.1 64.4h1.4v1.4h-1.4zM279.3 69.7h1.4v1.4h-1.4zM268.7 55.8h1.4v1.4h-1.4zM344.3 91.9h1.4v1.4h-1.4zM292.1 53.7h1.4v1.4h-1.4zM290.3 66.7h1.4v1.4h-1.4zM263.7 51.5h1.4v1.4h-1.4zM259.1 73.2h1.4v1.4h-1.4zM291.6 83.0h1.4v1.4h-1.4zM366.3 93.7h1.4v1.4h-1.4zM266.5 42.7h1.4v1.4h-1.4zM262.0 49.0h1.4v1.4h-1.4zM265.5 62.6h1.4v1.4h-1.4zM316.2 69.2h1.4v1.4h-1.4zM324.5 81.5h1.4v1.4h-1.4zM268.3 55.8h1.4v1.4h-1.4zM267.6 42.6h1.4v1.4h-1.4zM287.7 56.9h1.4v1.4h-1.4zM279.1 58.8h1.4v1.4h-1.4zM265.2 76.8h1.4v1.4h-1.4zM251.4 73.2h1.4v1.4h-1.4zM274.4 41.6h1.4v1.4h-1.4zM284.0 50.2h1.4v1.4h-1.4zM289.9 67.9h1.4v1.4h-1.4zM280.7 57.3h1.4v1.4h-1.4zM270.2 81.3h1.4v1.4h-1.4zM317.3 72.5h1.4v1.4h-1.4zM280.1 79.4h1.4v1.4h-1.4zM303.0 76.7h1.4v1.4h-1.4zM323.9 68.2h1.4v1.4h-1.4zM276.8 40.9h1.4v1.4h-1.4zM281.1 61.1h1.4v1.4h-1.4zM312.5 76.3h1.4v1.4h-1.4zM266.9 56.4h1.4v1.4h-1.4zM293.4 36.7h1.4v1.4h-1.4zM277.8 50.1h1.4v1.4h-1.4zM276.4 45.7h1.4v1.4h-1.4zM321.0 74.8h1.4v1.4h-1.4zM267.3 71.5h1.4v1.4h-1.4zM266.8 72.2h1.4v1.4h-1.4zM278.7 62.2h1.4v1.4h-1.4zM292.2 83.0h1.4v1.4h-1.4zM261.7 50.5h1.4v1.4h-1.4zM270.8 56.7h1.4v1.4h-1.4zM320.5 85.9h1.4v1.4h-1.4zM273.1 34.5h1.4v1.4h-1.4zM264.2 47.6h1.4v1.4h-1.4zM293.1 37.9h1.4v1.4h-1.4zM294.8 72.8h1.4v1.4h-1.4zM283.0 66.7h1.4v1.4h-1.4zM263.4 51.2h1.4v1.4h-1.4zM285.2 63.9h1.4v1.4h-1.4zM293.7 39.2h1.4v1.4h-1.4zM263.9 51.0h1.4v1.4h-1.4zM340.7 87.7h1.4v1.4h-1.4zM283.2 24.3h1.4v1.4h-1.4zM299.7 75.5h1.4v1.4h-1.4zM260.2 52.2h1.4v1.4h-1.4zM275.7 45.0h1.4v1.4h-1.4zM304.5 47.7h1.4v1.4h-1.4zM333.1 88.2h1.4v1.4h-1.4zM294.2 66.0h1.4v1.4h-1.4zM266.0 54.6h1.4v1.4h-1.4zM269.3 58.3h1.4v1.4h-1.4zM322.8 76.3h1.4v1.4h-1.4zM288.9 67.9h1.4v1.4h-1.4zM262.7 56.7h1.4v1.4h-1.4zM296.3 67.4h1.4v1.4h-1.4zM266.1 46.8h1.4v1.4h-1.4zM358.5 95.0h1.4v1.4h-1.4zM285.5 59.5h1.4v1.4h-1.4zM287.2 66.9h1.4v1.4h-1.4zM274.2 36.6h1.4v1.4h-1.4zM336.9 79.8h1.4v1.4h-1.4zM265.6 57.9h1.4v1.4h-1.4zM284.8 59.2h1.4v1.4h-1.4zM267.6 44.1h1.4v1.4h-1.4zM298.7 33.7h1.4v1.4h-1.4zM283.1 67.4h1.4v1.4h-1.4zM283.2 27.3h1.4v1.4h-1.4zM312.8 80.3h1.4v1.4h-1.4zM327.7 85.2h1.4v1.4h-1.4zM289.0 65.7h1.4v1.4h-1.4zM271.3 34.4h1.4v1.4h-1.4zM361.0 91.8h1.4v1.4h-1.4zM367.0 93.4h1.4v1.4h-1.4zM316.5 83.9h1.4v1.4h-1.4zM286.2 47.5h1.4v1.4h-1.4zM291.7 83.3h1.4v1.4h-1.4zM289.6 61.2h1.4v1.4h-1.4zM263.7 51.5h1.4v1.4h-1.4zM259.8 56.7h1.4v1.4h-1.4zM276.3 68.0h1.4v1.4h-1.4zM296.6 54.3h1.4v1.4h-1.4zM289.1 65.3h1.4v1.4h-1.4zM284.6 35.8h1.4v1.4h-1.4zM253.6 74.6h1.4v1.4h-1.4zM275.5 62.9h1.4v1.4h-1.4zM281.5 53.2h1.4v1.4h-1.4zM280.2 59.7h1.4v1.4h-1.4zM341.8 93.7h1.4v1.4h-1.4zM293.0 46.0h1.4v1.4h-1.4zM306.1 73.1h1.4v1.4h-1.4zM319.1 83.6h1.4v1.4h-1.4zM268.8 48.7h1.4v1.4h-1.4zM308.1 88.9h1.4v1.4h-1.4zM278.4 61.8h1.4v1.4h-1.4zM311.9 64.1h1.4v1.4h-1.4zM321.2 85.7h1.4v1.4h-1.4zM267.4 61.8h1.4v1.4h-1.4zM283.3 67.5h1.4v1.4h-1.4zM274.5 61.9h1.4v1.4h-1.4zM260.8 52.3h1.4v1.4h-1.4zM264.8 57.8h1.4v1.4h-1.4zM284.2 78.9h1.4v1.4h-1.4zM319.7 86.5h1.4v1.4h-1.4zM292.0 58.1h1.4v1.4h-1.4zM271.9 70.2h1.4v1.4h-1.4zM268.0 59.3h1.4v1.4h-1.4zM269.8 56.6h1.4v1.4h-1.4zM273.6 38.5h1.4v1.4h-1.4zM291.0 64.4h1.4v1.4h-1.4zM265.5 76.0h1.4v1.4h-1.4zM315.0 81.1h1.4v1.4h-1.4zM265.1 64.9h1.4v1.4h-1.4zM289.1 64.2h1.4v1.4h-1.4zM280.7 54.0h1.4v1.4h-1.4zM282.8 65.0h1.4v1.4h-1.4zM292.0 25.4h1.4v1.4h-1.4zM310.4 81.1h1.4v1.4h-1.4zM276.2 58.6h1.4v1.4h-1.4zM267.0 48.1h1.4v1.4h-1.4zM312.9 78.9h1.4v1.4h-1.4zM325.8 83.1h1.4v1.4h-1.4zM289.3 70.8h1.4v1.4h-1.4zM326.0 73.8h1.4v1.4h-1.4zM289.9 69.7h1.4v1.4h-1.4zM265.6 56.3h1.4v1.4h-1.4zM265.4 55.3h1.4v1.4h-1.4zM282.5 63.7h1.4v1.4h-1.4zM287.0 68.4h1.4v1.4h-1.4zM271.9 60.1h1.4v1.4h-1.4zM285.6 87.6h1.4v1.4h-1.4zM267.3 51.5h1.4v1.4h-1.4zM288.9 64.8h1.4v1.4h-1.4zM270.0 47.9h1.4v1.4h-1.4zM327.8 69.1h1.4v1.4h-1.4zM292.4 72.1h1.4v1.4h-1.4zM298.5 69.2h1.4v1.4h-1.4zM271.3 52.9h1.4v1.4h-1.4zM284.2 66.8h1.4v1.4h-1.4zM302.0 73.8h1.4v1.4h-1.4zM286.8 63.7h1.4v1.4h-1.4zM286.1 64.4h1.4v1.4h-1.4zM276.7 62.6h1.4v1.4h-1.4zM274.4 55.4h1.4v1.4h-1.4zM292.4 60.5h1.4v1.4h-1.4zM276.1 60.2h1.4v1.4h-1.4zM270.1 51.7h1.4v1.4h-1.4zM285.9 55.2h1.4v1.4h-1.4zM258.3 55.7h1.4v1.4h-1.4zM284.3 43.8h1.4v1.4h-1.4zM290.4 66.4h1.4v1.4h-1.4zM279.6 44.8h1.4v1.4h-1.4zM290.0 81.0h1.4v1.4h-1.4zM270.9 60.7h1.4v1.4h-1.4zM287.0 28.8h1.4v1.4h-1.4zM290.5 59.9h1.4v1.4h-1.4zM287.9 45.8h1.4v1.4h-1.4zM270.3 41.4h1.4v1.4h-1.4zM308.7 80.4h1.4v1.4h-1.4zM321.6 86.7h1.4v1.4h-1.4zM273.3 60.0h1.4v1.4h-1.4zM265.6 49.8h1.4v1.4h-1.4zM306.3 76.1h1.4v1.4h-1.4zM282.5 58.0h1.4v1.4h-1.4zM352.8 96.1h1.4v1.4h-1.4zM273.5 81.4h1.4v1.4h-1.4zM262.5 69.6h1.4v1.4h-1.4zM316.0 70.9h1.4v1.4h-1.4zM308.4 79.6h1.4v1.4h-1.4zM281.7 55.8h1.4v1.4h-1.4zM286.1 68.8h1.4v1.4h-1.4zM257.6 81.7h1.4v1.4h-1.4zM298.3 72.9h1.4v1.4h-1.4zM259.7 63.8h1.4v1.4h-1.4zM373.0 95.8h1.4v1.4h-1.4zM285.3 36.1h1.4v1.4h-1.4zM286.8 53.1h1.4v1.4h-1.4zM295.0 68.5h1.4v1.4h-1.4zM278.8 64.8h1.4v1.4h-1.4zM287.2 68.1h1.4v1.4h-1.4zM294.3 66.2h1.4v1.4h-1.4zM286.8 64.6h1.4v1.4h-1.4zM258.4 79.8h1.4v1.4h-1.4zM266.5 80.3h1.4v1.4h-1.4zM297.4 86.7h1.4v1.4h-1.4zM281.2 57.0h1.4v1.4h-1.4zM290.2 64.6h1.4v1.4h-1.4zM275.5 82.3h1.4v1.4h-1.4zM268.1 53.6h1.4v1.4h-1.4zM377.7 93.2h1.4v1.4h-1.4zM279.4 78.2h1.4v1.4h-1.4zM272.0 61.7h1.4v1.4h-1.4zM278.1 65.3h1.4v1.4h-1.4zM250.8 74.1h1.4v1.4h-1.4zM287.0 68.6h1.4v1.4h-1.4zM266.0 45.0h1.4v1.4h-1.4zM257.6 62.0h1.4v1.4h-1.4zM301.0 69.5h1.4v1.4h-1.4zM296.6 40.7h1.4v1.4h-1.4zM271.3 51.1h1.4v1.4h-1.4zM288.0 69.3h1.4v1.4h-1.4zM262.8 56.1h1.4v1.4h-1.4zM302.8 40.3h1.4v1.4h-1.4zM311.0 75.6h1.4v1.4h-1.4zM306.8 67.8h1.4v1.4h-1.4zM292.8 57.0h1.4v1.4h-1.4zM276.5 49.3h1.4v1.4h-1.4zM265.3 68.8h1.4v1.4h-1.4zM281.8 59.7h1.4v1.4h-1.4zM277.3 61.3h1.4v1.4h-1.4zM286.6 30.9h1.4v1.4h-1.4zM266.1 78.1h1.4v1.4h-1.4zM275.1 60.6h1.4v1.4h-1.4zM299.1 86.4h1.4v1.4h-1.4zM268.9 64.7h1.4v1.4h-1.4zM271.5 58.8h1.4v1.4h-1.4zM264.2 57.5h1.4v1.4h-1.4zM265.9 53.4h1.4v1.4h-1.4zM283.2 63.5h1.4v1.4h-1.4zM295.2 68.6h1.4v1.4h-1.4zM271.8 54.3h1.4v1.4h-1.4zM262.0 51.5h1.4v1.4h-1.4zM253.7 66.1h1.4v1.4h-1.4zM285.0 105.8h1.4v1.4h-1.4zM294.2 124.0h1.4v1.4h-1.4zM305.6 118.4h1.4v1.4h-1.4zM299.4 118.8h1.4v1.4h-1.4zM343.4 101.1h1.4v1.4h-1.4zM307.1 118.4h1.4v1.4h-1.4zM316.8 115.9h1.4v1.4h-1.4zM261.9 108.0h1.4v1.4h-1.4zM261.7 110.2h1.4v1.4h-1.4zM344.2 105.4h1.4v1.4h-1.4zM347.5 99.3h1.4v1.4h-1.4zM323.8 115.8h1.4v1.4h-1.4zM296.9 108.5h1.4v1.4h-1.4zM247.7 110.4h1.4v1.4h-1.4zM246.1 117.0h1.4v1.4h-1.4zM343.6 106.4h1.4v1.4h-1.4zM312.5 119.4h1.4v1.4h-1.4zM277.9 117.3h1.4v1.4h-1.4zM329.4 111.9h1.4v1.4h-1.4zM291.1 119.5h1.4v1.4h-1.4zM262.4 122.6h1.4v1.4h-1.4zM351.0 98.6h1.4v1.4h-1.4zM331.8 101.8h1.4v1.4h-1.4zM272.1 114.4h1.4v1.4h-1.4zM336.5 115.2h1.4v1.4h-1.4zM291.0 118.3h1.4v1.4h-1.4zM276.8 119.4h1.4v1.4h-1.4zM294.4 108.1h1.4v1.4h-1.4zM334.1 113.2h1.4v1.4h-1.4zM267.3 113.9h1.4v1.4h-1.4zM340.9 101.6h1.4v1.4h-1.4zM289.8 119.0h1.4v1.4h-1.4zM289.8 120.6h1.4v1.4h-1.4zM310.2 118.1h1.4v1.4h-1.4zM280.9 126.6h1.4v1.4h-1.4zM294.8 119.1h1.4v1.4h-1.4zM334.2 116.2h1.4v1.4h-1.4zM244.4 117.2h1.4v1.4h-1.4zM301.3 112.0h1.4v1.4h-1.4zM283.9 119.3h1.4v1.4h-1.4zM279.1 120.2h1.4v1.4h-1.4zM266.1 113.2h1.4v1.4h-1.4zM288.3 112.8h1.4v1.4h-1.4zM295.5 117.7h1.4v1.4h-1.4zM317.1 117.6h1.4v1.4h-1.4zM331.3 106.6h1.4v1.4h-1.4zM344.8 99.1h1.4v1.4h-1.4zM258.9 122.6h1.4v1.4h-1.4zM343.7 104.5h1.4v1.4h-1.4zM326.0 110.0h1.4v1.4h-1.4zM256.5 118.1h1.4v1.4h-1.4zM298.9 107.5h1.4v1.4h-1.4zM257.8 123.2h1.4v1.4h-1.4zM313.7 119.9h1.4v1.4h-1.4zM278.0 125.8h1.4v1.4h-1.4zM267.9 116.1h1.4v1.4h-1.4zM307.7 116.7h1.4v1.4h-1.4zM318.8 111.2h1.4v1.4h-1.4zM279.6 110.8h1.4v1.4h-1.4zM274.1 116.6h1.4v1.4h-1.4zM296.7 121.3h1.4v1.4h-1.4zM298.8 117.8h1.4v1.4h-1.4zM376.6 101.0h1.4v1.4h-1.4zM267.0 119.2h1.4v1.4h-1.4zM314.5 116.8h1.4v1.4h-1.4zM296.4 117.3h1.4v1.4h-1.4zM313.0 119.3h1.4v1.4h-1.4zM250.0 120.3h1.4v1.4h-1.4zM257.6 112.9h1.4v1.4h-1.4zM334.1 107.9h1.4v1.4h-1.4zM338.4 107.0h1.4v1.4h-1.4zM263.6 118.4h1.4v1.4h-1.4zM329.8 120.0h1.4v1.4h-1.4zM320.2 117.4h1.4v1.4h-1.4zM282.2 124.0h1.4v1.4h-1.4zM310.9 117.1h1.4v1.4h-1.4zM274.2 119.6h1.4v1.4h-1.4zM313.4 106.3h1.4v1.4h-1.4zM262.6 118.6h1.4v1.4h-1.4zM343.5 98.4h1.4v1.4h-1.4zM272.5 121.0h1.4v1.4h-1.4zM292.0 115.5h1.4v1.4h-1.4zM318.1 117.2h1.4v1.4h-1.4zM245.4 121.3h1.4v1.4h-1.4zM327.1 117.5h1.4v1.4h-1.4zM277.2 121.3h1.4v1.4h-1.4zM301.7 120.5h1.4v1.4h-1.4zM252.0 110.7h1.4v1.4h-1.4zM324.5 118.4h1.4v1.4h-1.4zM297.7 118.2h1.4v1.4h-1.4zM265.0 126.4h1.4v1.4h-1.4zM348.4 101.3h1.4v1.4h-1.4zM331.0 111.8h1.4v1.4h-1.4zM282.1 121.4h1.4v1.4h-1.4zM300.9 120.4h1.4v1.4h-1.4zM285.9 116.6h1.4v1.4h-1.4zM254.1 121.5h1.4v1.4h-1.4zM258.0 120.7h1.4v1.4h-1.4zM302.0 122.6h1.4v1.4h-1.4zM316.0 116.1h1.4v1.4h-1.4zM277.4 107.5h1.4v1.4h-1.4zM269.6 123.9h1.4v1.4h-1.4zM298.2 124.9h1.4v1.4h-1.4zM244.9 118.7h1.4v1.4h-1.4zM330.3 112.6h1.4v1.4h-1.4zM274.7 124.3h1.4v1.4h-1.4zM316.0 105.7h1.4v1.4h-1.4zM273.5 123.4h1.4v1.4h-1.4zM282.2 111.1h1.4v1.4h-1.4zM319.8 123.2h1.4v1.4h-1.4zM266.8 113.0h1.4v1.4h-1.4zM244.6 114.2h1.4v1.4h-1.4zM283.0 123.4h1.4v1.4h-1.4zM255.4 117.7h1.4v1.4h-1.4zM266.2 114.1h1.4v1.4h-1.4zM343.7 101.0h1.4v1.4h-1.4zM275.1 105.4h1.4v1.4h-1.4zM279.8 118.9h1.4v1.4h-1.4zM293.1 117.4h1.4v1.4h-1.4zM247.7 112.3h1.4v1.4h-1.4zM269.0 124.2h1.4v1.4h-1.4zM273.2 127.2h1.4v1.4h-1.4zM250.9 111.9h1.4v1.4h-1.4zM329.5 103.1h1.4v1.4h-1.4zM279.9 120.4h1.4v1.4h-1.4zM279.6 117.4h1.4v1.4h-1.4zM299.2 119.2h1.4v1.4h-1.4zM318.1 117.6h1.4v1.4h-1.4zM265.8 111.7h1.4v1.4h-1.4zM300.7 118.7h1.4v1.4h-1.4zM349.8 99.6h1.4v1.4h-1.4zM292.1 121.0h1.4v1.4h-1.4zM308.4 105.3h1.4v1.4h-1.4zM281.4 128.1h1.4v1.4h-1.4zM259.4 118.6h1.4v1.4h-1.4zM265.4 119.1h1.4v1.4h-1.4zM333.3 112.8h1.4v1.4h-1.4zM360.2 101.9h1.4v1.4h-1.4zM262.3 112.1h1.4v1.4h-1.4zM316.0 119.8h1.4v1.4h-1.4zM262.2 114.3h1.4v1.4h-1.4zM309.9 120.9h1.4v1.4h-1.4zM278.8 118.6h1.4v1.4h-1.4zM297.9 122.4h1.4v1.4h-1.4zM324.8 114.2h1.4v1.4h-1.4zM304.7 124.5h1.4v1.4h-1.4zM244.1 120.6h1.4v1.4h-1.4zM306.3 118.0h1.4v1.4h-1.4zM270.0 119.2h1.4v1.4h-1.4zM306.7 117.4h1.4v1.4h-1.4zM324.5 118.1h1.4v1.4h-1.4zM307.2 120.2h1.4v1.4h-1.4zM265.8 117.0h1.4v1.4h-1.4zM339.0 103.5h1.4v1.4h-1.4zM247.4 118.5h1.4v1.4h-1.4zM321.6 107.9h1.4v1.4h-1.4zM290.1 126.7h1.4v1.4h-1.4zM334.7 109.3h1.4v1.4h-1.4zM275.1 116.1h1.4v1.4h-1.4zM299.1 109.9h1.4v1.4h-1.4zM334.3 111.1h1.4v1.4h-1.4zM297.9 116.9h1.4v1.4h-1.4zM265.9 118.2h1.4v1.4h-1.4zM307.7 119.7h1.4v1.4h-1.4zM275.1 118.5h1.4v1.4h-1.4zM246.6 113.6h1.4v1.4h-1.4zM261.6 117.3h1.4v1.4h-1.4zM310.3 109.1h1.4v1.4h-1.4zM247.7 117.3h1.4v1.4h-1.4zM327.2 115.0h1.4v1.4h-1.4zM342.7 106.8h1.4v1.4h-1.4zM309.1 121.0h1.4v1.4h-1.4zM338.6 103.4h1.4v1.4h-1.4zM277.0 120.5h1.4v1.4h-1.4zM291.9 120.5h1.4v1.4h-1.4zM353.5 99.3h1.4v1.4h-1.4zM289.3 117.0h1.4v1.4h-1.4zM312.2 117.0h1.4v1.4h-1.4zM276.7 112.2h1.4v1.4h-1.4zM289.3 117.6h1.4v1.4h-1.4zM338.7 103.2h1.4v1.4h-1.4zM284.5 117.6h1.4v1.4h-1.4zM266.5 114.0h1.4v1.4h-1.4zM281.5 124.7h1.4v1.4h-1.4zM304.5 121.0h1.4v1.4h-1.4zM306.2 119.1h1.4v1.4h-1.4zM301.6 116.4h1.4v1.4h-1.4zM310.3 107.4h1.4v1.4h-1.4zM272.0 123.8h1.4v1.4h-1.4zM317.3 119.7h1.4v1.4h-1.4zM274.6 117.9h1.4v1.4h-1.4zM335.5 107.2h1.4v1.4h-1.4zM350.2 100.8h1.4v1.4h-1.4zM275.3 118.3h1.4v1.4h-1.4zM338.0 110.2h1.4v1.4h-1.4zM322.0 120.6h1.4v1.4h-1.4zM281.4 126.8h1.4v1.4h-1.4zM258.4 114.6h1.4v1.4h-1.4zM310.0 115.9h1.4v1.4h-1.4zM324.2 114.1h1.4v1.4h-1.4zM265.5 118.9h1.4v1.4h-1.4zM304.7 120.4h1.4v1.4h-1.4zM299.7 114.1h1.4v1.4h-1.4zM275.7 116.9h1.4v1.4h-1.4zM279.2 126.5h1.4v1.4h-1.4zM269.5 109.4h1.4v1.4h-1.4zM269.0 119.5h1.4v1.4h-1.4zM269.9 114.9h1.4v1.4h-1.4zM298.7 122.4h1.4v1.4h-1.4zM295.8 118.3h1.4v1.4h-1.4zM268.8 112.7h1.4v1.4h-1.4zM317.4 117.2h1.4v1.4h-1.4zM255.1 117.9h1.4v1.4h-1.4zM277.9 114.8h1.4v1.4h-1.4zM258.3 114.1h1.4v1.4h-1.4zM327.4 113.1h1.4v1.4h-1.4zM277.3 117.6h1.4v1.4h-1.4zM328.5 110.2h1.4v1.4h-1.4zM308.9 116.7h1.4v1.4h-1.4zM268.4 114.9h1.4v1.4h-1.4zM336.0 109.8h1.4v1.4h-1.4zM345.8 103.2h1.4v1.4h-1.4zM244.2 108.7h1.4v1.4h-1.4zM270.3 105.9h1.4v1.4h-1.4zM318.5 119.2h1.4v1.4h-1.4zM278.0 123.3h1.4v1.4h-1.4zM304.8 123.0h1.4v1.4h-1.4zM340.5 107.6h1.4v1.4h-1.4zM321.7 121.4h1.4v1.4h-1.4zM347.5 99.4h1.4v1.4h-1.4zM275.9 116.7h1.4v1.4h-1.4zM261.8 110.7h1.4v1.4h-1.4zM313.2 120.9h1.4v1.4h-1.4zM315.0 119.9h1.4v1.4h-1.4zM298.8 126.4h1.4v1.4h-1.4zM306.4 120.1h1.4v1.4h-1.4zM272.0 118.0h1.4v1.4h-1.4zM338.1 116.0h1.4v1.4h-1.4zM309.6 121.4h1.4v1.4h-1.4zM326.6 107.8h1.4v1.4h-1.4zM250.3 122.2h1.4v1.4h-1.4zM260.2 112.7h1.4v1.4h-1.4zM259.8 114.3h1.4v1.4h-1.4zM300.3 118.5h1.4v1.4h-1.4zM294.3 117.5h1.4v1.4h-1.4zM297.9 120.4h1.4v1.4h-1.4zM307.5 116.8h1.4v1.4h-1.4zM333.2 113.5h1.4v1.4h-1.4zM281.0 117.0h1.4v1.4h-1.4zM272.1 112.2h1.4v1.4h-1.4zM247.0 112.4h1.4v1.4h-1.4zM247.0 111.3h1.4v1.4h-1.4zM306.1 126.2h1.4v1.4h-1.4zM328.1 113.8h1.4v1.4h-1.4zM329.7 120.9h1.4v1.4h-1.4zM265.2 113.2h1.4v1.4h-1.4zM304.4 120.4h1.4v1.4h-1.4zM262.7 112.5h1.4v1.4h-1.4zM327.6 117.5h1.4v1.4h-1.4zM327.1 118.1h1.4v1.4h-1.4z" fill="#2020e4"/>
<path d="M245.9 107.0h1.2v1.2h-1.2zM229.9 104.9h1.2v1.2h-1.2zM271.2 106.4h1.2v1.2h-1.2zM235.9 105.7h1.2v1.2h-1.2zM236.2 106.2h1.2v1.2h-1.2zM237.0 106.0h1.2v1.2h-1.2zM247.6 107.1h1.2v1.2h-1.2zM250.7 108.9h1.2v1.2h-1.2zM251.5 108.3h1.2v1.2h-1.2zM246.0 107.4h1.2v1.2h-1.2zM227.9 104.6h1.2v1.2h-1.2zM247.4 113.4h1.2v1.2h-1.2zM259.7 109.7h1.2v1.2h-1.2zM239.5 108.0h1.2v1.2h-1.2zM239.2 109.8h1.2v1.2h-1.2zM238.2 106.6h1.2v1.2h-1.2zM234.9 105.3h1.2v1.2h-1.2zM238.5 107.0h1.2v1.2h-1.2zM252.0 108.3h1.2v1.2h-1.2zM259.1 107.4h1.2v1.2h-1.2zM268.2 105.9h1.2v1.2h-1.2zM252.4 111.4h1.2v1.2h-1.2zM259.2 108.9h1.2v1.2h-1.2zM265.8 109.2h1.2v1.2h-1.2zM257.2 107.0h1.2v1.2h-1.2zM233.0 107.0h1.2v1.2h-1.2zM250.2 107.6h1.2v1.2h-1.2zM259.6 108.0h1.2v1.2h-1.2zM246.8 109.6h1.2v1.2h-1.2zM264.3 107.2h1.2v1.2h-1.2zM250.9 110.5h1.2v1.2h-1.2zM255.5 108.2h1.2v1.2h-1.2zM237.4 108.1h1.2v1.2h-1.2zM252.8 110.7h1.2v1.2h-1.2zM230.4 106.4h1.2v1.2h-1.2zM250.9 108.0h1.2v1.2h-1.2zM238.1 106.1h1.2v1.2h-1.2zM237.0 106.3h1.2v1.2h-1.2zM257.4 110.1h1.2v1.2h-1.2zM245.2 107.9h1.2v1.2h-1.2zM247.0 109.4h1.2v1.2h-1.2zM258.6 108.9h1.2v1.2h-1.2zM249.8 112.4h1.2v1.2h-1.2zM255.8 108.2h1.2v1.2h-1.2zM256.8 108.4h1.2v1.2h-1.2zM253.6 110.3h1.2v1.2h-1.2zM258.0 111.0h1.2v1.2h-1.2zM257.8 107.6h1.2v1.2h-1.2zM253.5 110.4h1.2v1.2h-1.2zM234.9 107.6h1.2v1.2h-1.2zM249.1 111.7h1.2v1.2h-1.2zM260.7 108.6h1.2v1.2h-1.2zM269.1 107.4h1.2v1.2h-1.2zM239.5 110.7h1.2v1.2h-1.2zM269.9 105.5h1.2v1.2h-1.2zM261.3 110.0h1.2v1.2h-1.2zM249.9 112.7h1.2v1.2h-1.2zM265.3 106.4h1.2v1.2h-1.2zM247.4 110.4h1.2v1.2h-1.2zM260.3 107.9h1.2v1.2h-1.2zM261.0 109.0h1.2v1.2h-1.2zM256.0 110.4h1.2v1.2h-1.2zM247.7 110.8h1.2v1.2h-1.2zM251.0 107.4h1.2v1.2h-1.2zM270.0 106.5h1.2v1.2h-1.2zM248.0 107.3h1.2v1.2h-1.2zM237.3 107.1h1.2v1.2h-1.2zM263.0 107.1h1.2v1.2h-1.2zM256.0 109.8h1.2v1.2h-1.2zM267.0 107.9h1.2v1.2h-1.2zM239.8 107.4h1.2v1.2h-1.2zM241.5 106.5h1.2v1.2h-1.2zM229.7 104.7h1.2v1.2h-1.2zM239.1 111.3h1.2v1.2h-1.2zM269.2 106.8h1.2v1.2h-1.2zM236.0 106.7h1.2v1.2h-1.2zM254.2 109.2h1.2v1.2h-1.2zM236.9 106.3h1.2v1.2h-1.2zM261.7 106.7h1.2v1.2h-1.2zM245.1 111.9h1.2v1.2h-1.2zM250.1 114.5h1.2v1.2h-1.2zM244.4 106.8h1.2v1.2h-1.2zM258.4 111.3h1.2v1.2h-1.2zM262.9 106.1h1.2v1.2h-1.2zM238.7 108.3h1.2v1.2h-1.2zM250.6 108.5h1.2v1.2h-1.2zM249.0 109.3h1.2v1.2h-1.2zM246.8 108.3h1.2v1.2h-1.2zM261.3 107.3h1.2v1.2h-1.2zM244.3 107.2h1.2v1.2h-1.2zM253.8 109.6h1.2v1.2h-1.2zM256.3 110.7h1.2v1.2h-1.2zM249.0 108.8h1.2v1.2h-1.2zM231.1 104.5h1.2v1.2h-1.2zM229.8 106.0h1.2v1.2h-1.2zM240.2 107.3h1.2v1.2h-1.2zM239.1 108.6h1.2v1.2h-1.2zM247.2 107.3h1.2v1.2h-1.2zM251.8 108.4h1.2v1.2h-1.2zM258.2 106.8h1.2v1.2h-1.2zM255.9 107.0h1.2v1.2h-1.2zM244.4 113.1h1.2v1.2h-1.2zM252.5 107.9h1.2v1.2h-1.2zM235.3 105.6h1.2v1.2h-1.2zM249.0 107.9h1.2v1.2h-1.2zM267.2 107.9h1.2v1.2h-1.2zM261.6 106.8h1.2v1.2h-1.2zM247.2 114.6h1.2v1.2h-1.2zM258.9 106.9h1.2v1.2h-1.2zM237.4 109.6h1.2v1.2h-1.2zM240.6 107.1h1.2v1.2h-1.2zM234.8 107.8h1.2v1.2h-1.2zM241.9 107.7h1.2v1.2h-1.2zM252.6 112.0h1.2v1.2h-1.2zM268.8 105.5h1.2v1.2h-1.2zM266.3 106.0h1.2v1.2h-1.2zM260.1 109.8h1.2v1.2h-1.2zM246.9 111.5h1.2v1.2h-1.2zM244.5 107.6h1.2v1.2h-1.2zM234.5 105.6h1.2v1.2h-1.2zM269.6 106.8h1.2v1.2h-1.2zM243.8 107.9h1.2v1.2h-1.2zM261.5 108.7h1.2v1.2h-1.2zM268.6 105.6h1.2v1.2h-1.2zM246.0 107.8h1.2v1.2h-1.2zM254.7 108.5h1.2v1.2h-1.2zM238.3 107.3h1.2v1.2h-1.2zM253.2 109.5h1.2v1.2h-1.2zM247.4 111.1h1.2v1.2h-1.2zM245.1 112.3h1.2v1.2h-1.2zM252.3 112.6h1.2v1.2h-1.2zM258.2 107.4h1.2v1.2h-1.2zM244.0 107.4h1.2v1.2h-1.2zM239.8 107.4h1.2v1.2h-1.2zM225.2 103.0h1.2v1.2h-1.2zM256.2 108.4h1.2v1.2h-1.2zM244.9 110.8h1.2v1.2h-1.2zM232.8 107.9h1.2v1.2h-1.2zM254.9 108.1h1.2v1.2h-1.2zM258.1 107.2h1.2v1.2h-1.2zM263.9 107.2h1.2v1.2h-1.2zM253.7 111.7h1.2v1.2h-1.2zM239.5 107.4h1.2v1.2h-1.2zM255.6 109.1h1.2v1.2h-1.2zM251.0 111.0h1.2v1.2h-1.2zM236.6 105.9h1.2v1.2h-1.2zM253.8 113.7h1.2v1.2h-1.2zM244.2 109.0h1.2v1.2h-1.2zM241.8 111.6h1.2v1.2h-1.2zM251.6 107.6h1.2v1.2h-1.2zM259.9 109.3h1.2v1.2h-1.2zM252.2 110.1h1.2v1.2h-1.2zM229.5 104.6h1.2v1.2h-1.2zM259.1 108.1h1.2v1.2h-1.2zM259.9 111.6h1.2v1.2h-1.2zM242.6 107.1h1.2v1.2h-1.2zM260.5 107.3h1.2v1.2h-1.2zM256.1 111.0h1.2v1.2h-1.2zM237.1 105.8h1.2v1.2h-1.2zM252.3 112.6h1.2v1.2h-1.2zM244.9 109.9h1.2v1.2h-1.2zM238.5 107.0h1.2v1.2h-1.2zM250.3 110.5h1.2v1.2h-1.2zM248.0 110.8h1.2v1.2h-1.2zM254.1 108.8h1.2v1.2h-1.2zM236.8 109.7h1.2v1.2h-1.2zM242.6 106.8h1.2v1.2h-1.2zM232.2 106.2h1.2v1.2h-1.2zM257.0 110.5h1.2v1.2h-1.2zM247.5 113.0h1.2v1.2h-1.2zM239.7 107.8h1.2v1.2h-1.2zM260.1 110.5h1.2v1.2h-1.2zM239.8 110.2h1.2v1.2h-1.2zM240.3 108.2h1.2v1.2h-1.2zM231.0 105.2h1.2v1.2h-1.2zM260.2 108.0h1.2v1.2h-1.2zM235.6 107.0h1.2v1.2h-1.2zM271.2 105.9h1.2v1.2h-1.2zM256.7 107.8h1.2v1.2h-1.2z" fill="#b4b4b4"/>
<rect x="191.00" y="94.20" width="0.80" height="2.80" fill="#b4b4b4" />
<rect x="196.00" y="94.20" width="0.80" height="2.80" fill="#b4b4b4" />
<rect x="200.00" y="94.20" width="0.80" height="2.80" fill="#b4b4b4" />
<rect x="203.00" y="94.20" width="0.80" height="2.80" fill="#b4b4b4" />
<rect x="206.00" y="94.20" width="0.80" height="2.80" fill="#b4b4b4" />
<rect x="208.00" y="94.20" width="0.80" height="2.80" fill="#b4b4b4" />
<rect x="211.00" y="94.20" width="0.80" height="2.80" fill="#b4b4b4" />
<rect x="213.00" y="94.20" width="0.80" height="2.80" fill="#b4b4b4" />
<line x1="183.80" y1="97.00" x2="387.30" y2="97.00" stroke="#585858" stroke-width="1.50"/>
<rect x="183.80" y="5.25" width="203.50" height="141.75" fill="none" stroke="#a8a8a8" stroke-width="1"/>
<line x1="180.00" y1="18.75" x2="183.80" y2="18.75" stroke="#909090" stroke-width="0.80"/>
<text x="0" y="0" font-size="5.4" fill="#555" text-anchor="middle" transform="translate(175.6 18.75) rotate(-90)">10</text>
<line x1="180.00" y1="57.40" x2="183.80" y2="57.40" stroke="#909090" stroke-width="0.80"/>
<text x="0" y="0" font-size="5.4" fill="#555" text-anchor="middle" transform="translate(175.6 57.40) rotate(-90)">5</text>
<line x1="180.00" y1="97.00" x2="183.80" y2="97.00" stroke="#909090" stroke-width="0.80"/>
<text x="0" y="0" font-size="5.4" fill="#555" text-anchor="middle" transform="translate(175.6 97.00) rotate(-90)">0</text>
<line x1="180.00" y1="136.40" x2="183.80" y2="136.40" stroke="#909090" stroke-width="0.80"/>
<text x="0" y="0" font-size="5.4" fill="#555" text-anchor="middle" transform="translate(175.6 136.40) rotate(-90)">-5</text>
<line x1="207.50" y1="147.00" x2="207.50" y2="149.80" stroke="#909090" stroke-width="0.80"/>
<text x="207.50" y="157.20" font-size="5.50" text-anchor="middle" fill="#555" textLength="15.80" lengthAdjust="spacingAndGlyphs" >1e+00</text>
<line x1="237.00" y1="147.00" x2="237.00" y2="149.80" stroke="#909090" stroke-width="0.80"/>
<text x="237.00" y="157.20" font-size="5.50" text-anchor="middle" fill="#555" textLength="15.80" lengthAdjust="spacingAndGlyphs" >1e+01</text>
<line x1="266.50" y1="147.00" x2="266.50" y2="149.80" stroke="#909090" stroke-width="0.80"/>
<text x="266.50" y="157.20" font-size="5.50" text-anchor="middle" fill="#555" textLength="15.80" lengthAdjust="spacingAndGlyphs" >1e+02</text>
<line x1="296.00" y1="147.00" x2="296.00" y2="149.80" stroke="#909090" stroke-width="0.80"/>
<text x="296.00" y="157.20" font-size="5.50" text-anchor="middle" fill="#555" textLength="15.80" lengthAdjust="spacingAndGlyphs" >1e+03</text>
<line x1="325.50" y1="147.00" x2="325.50" y2="149.80" stroke="#909090" stroke-width="0.80"/>
<text x="325.50" y="157.20" font-size="5.50" text-anchor="middle" fill="#555" textLength="15.80" lengthAdjust="spacingAndGlyphs" >1e+04</text>
<line x1="355.00" y1="147.00" x2="355.00" y2="149.80" stroke="#909090" stroke-width="0.80"/>
<text x="355.00" y="157.20" font-size="5.50" text-anchor="middle" fill="#555" textLength="15.80" lengthAdjust="spacingAndGlyphs" >1e+05</text>
<line x1="384.50" y1="147.00" x2="384.50" y2="149.80" stroke="#909090" stroke-width="0.80"/>
<text x="384.50" y="157.20" font-size="5.50" text-anchor="middle" fill="#555" textLength="15.80" lengthAdjust="spacingAndGlyphs" >1e+06</text>
<text x="250.10" y="168.30" font-size="5.40" fill="#555" textLength="69.80" lengthAdjust="spacingAndGlyphs" >mean of normalized counts</text>
<text x="0" y="0" font-size="5" fill="#555" text-anchor="middle" textLength="31.3" lengthAdjust="spacingAndGlyphs" transform="translate(161.9 76.25) rotate(-90)">log fold change</text>
<text x="202.90" y="18.70" font-size="8.40" font-weight="bold" font-style="italic" fill="#111" textLength="156.30" lengthAdjust="spacingAndGlyphs" >MA-plot for Stim1 cKO vs Stim1 Ctrl and HT</text>
<text x="4.00" y="180.10" font-size="9.60" stroke="#000" stroke-width="0.20" font-weight="bold" fill="#000" >C</text>
<rect x="37.80" y="177.75" width="21.20" height="189.85" fill="url(#hc1)" />
<rect x="59.00" y="177.75" width="21.00" height="189.85" fill="url(#hc2)" />
<rect x="80.00" y="177.75" width="21.40" height="189.85" fill="url(#hc3)" />
<text x="15.75" y="195.70" font-size="7.20" stroke="#242424" stroke-width="0.10" fill="#242424" textLength="18.55" lengthAdjust="spacingAndGlyphs" >Klk4</text>
<text x="7.90" y="223.80" font-size="7.20" stroke="#242424" stroke-width="0.10" fill="#242424" textLength="26.75" lengthAdjust="spacingAndGlyphs" >Odam</text>
<text x="18.00" y="252.00" font-size="7.20" stroke="#242424" stroke-width="0.10" fill="#242424" textLength="17.00" lengthAdjust="spacingAndGlyphs" >Alpl</text>
<text x="7.50" y="280.00" font-size="7.20" stroke="#242424" stroke-width="0.10" fill="#242424" textLength="26.90" lengthAdjust="spacingAndGlyphs" >Amelx</text>
<text x="8.75" y="308.50" font-size="7.20" stroke="#242424" stroke-width="0.10" fill="#242424" textLength="26.00" lengthAdjust="spacingAndGlyphs" >Ambn</text>
<text x="8.50" y="336.60" font-size="7.20" stroke="#242424" stroke-width="0.10" fill="#242424" textLength="26.30" lengthAdjust="spacingAndGlyphs" >Enam</text>
<text x="2.75" y="365.20" font-size="7.20" stroke="#242424" stroke-width="0.10" fill="#242424" textLength="32.45" lengthAdjust="spacingAndGlyphs" >Mmp20</text>
<circle cx="32.60" cy="215.40" r="1.0" fill="#111"/>
<circle cx="31.90" cy="267.75" r="1.0" fill="#111"/>
<circle cx="31.90" cy="297.50" r="1.0" fill="#111"/>
<circle cx="31.60" cy="326.00" r="1.0" fill="#111"/>
<text x="46.70" y="381.00" font-size="8.20" stroke="#000" stroke-width="0.40" text-anchor="middle" font-weight="bold" font-style="italic" fill="#000" textLength="16.60" lengthAdjust="spacingAndGlyphs" >Stim1</text>
<text x="47.00" y="393.40" font-size="8.20" stroke="#000" stroke-width="0.40" text-anchor="middle" font-weight="bold" font-style="italic" fill="#000" textLength="12.00" lengthAdjust="spacingAndGlyphs" >cKO</text>
<text x="69.30" y="380.00" font-size="8.20" stroke="#000" stroke-width="0.40" text-anchor="middle" font-weight="bold" font-style="italic" fill="#000" textLength="16.60" lengthAdjust="spacingAndGlyphs" >Stim1</text>
<text x="69.80" y="392.60" font-size="8.20" stroke="#000" stroke-width="0.40" text-anchor="middle" font-weight="bold" font-style="italic" fill="#000" textLength="7.60" lengthAdjust="spacingAndGlyphs" >HT</text>
<text x="92.00" y="381.00" font-size="8.20" stroke="#000" stroke-width="0.40" text-anchor="middle" font-weight="bold" font-style="italic" fill="#000" textLength="16.80" lengthAdjust="spacingAndGlyphs" >Stim1</text>
<text x="91.80" y="393.40" font-size="8.20" stroke="#000" stroke-width="0.40" text-anchor="middle" font-weight="bold" font-style="italic" fill="#000" textLength="10.40" lengthAdjust="spacingAndGlyphs" >Ctrl</text>
<text x="112.20" y="179.60" font-size="9.20" stroke="#000" stroke-width="0.20" font-weight="bold" fill="#000" >D</text>
<rect x="164.50" y="180.50" width="28.50" height="204.00" fill="url(#hc4)" />
<rect x="193.00" y="180.50" width="32.40" height="204.00" fill="url(#hc5)" />
<rect x="225.40" y="180.50" width="29.60" height="204.00" fill="url(#hc6)" />
<rect x="192.60" y="180.50" width="0.80" height="204.00" fill="#ffffff" opacity="0.7"/>
<rect x="225.00" y="180.50" width="0.80" height="204.00" fill="#ffffff" opacity="0.7"/>
<text x="128.20" y="187.80" font-size="6.40" stroke="#242424" stroke-width="0.10" fill="#242424" textLength="26.80" lengthAdjust="spacingAndGlyphs" >Orai3</text>
<text x="120.50" y="199.80" font-size="6.40" stroke="#242424" stroke-width="0.10" fill="#242424" textLength="33.00" lengthAdjust="spacingAndGlyphs" >Atp2a1</text>
<text x="126.80" y="211.80" font-size="6.40" stroke="#242424" stroke-width="0.10" fill="#242424" textLength="27.90" lengthAdjust="spacingAndGlyphs" >Stim2</text>
<text x="126.80" y="223.80" font-size="6.40" stroke="#242424" stroke-width="0.10" fill="#242424" textLength="26.70" lengthAdjust="spacingAndGlyphs" >Stim1</text>
<text x="128.00" y="235.80" font-size="6.40" stroke="#242424" stroke-width="0.10" fill="#242424" textLength="25.50" lengthAdjust="spacingAndGlyphs" >Orai1</text>
<text x="121.25" y="247.80" font-size="6.40" stroke="#242424" stroke-width="0.10" fill="#242424" textLength="33.75" lengthAdjust="spacingAndGlyphs" >Slc8a3</text>
<text x="121.25" y="259.80" font-size="6.40" stroke="#242424" stroke-width="0.10" fill="#242424" textLength="32.25" lengthAdjust="spacingAndGlyphs" >Slc8a1</text>
<text x="114.80" y="271.80" font-size="6.40" stroke="#242424" stroke-width="0.10" fill="#242424" textLength="39.90" lengthAdjust="spacingAndGlyphs" >ATP2B4</text>
<text x="119.30" y="283.80" font-size="6.40" stroke="#242424" stroke-width="0.10" fill="#242424" textLength="35.40" lengthAdjust="spacingAndGlyphs" >Atp2a2</text>
<text x="121.25" y="295.80" font-size="6.40" stroke="#242424" stroke-width="0.10" fill="#242424" textLength="33.45" lengthAdjust="spacingAndGlyphs" >Slc8a2</text>
<text x="119.30" y="307.80" font-size="6.40" stroke="#242424" stroke-width="0.10" fill="#242424" textLength="35.70" lengthAdjust="spacingAndGlyphs" >Atp2a3</text>
<text x="128.75" y="319.80" font-size="6.40" stroke="#242424" stroke-width="0.10" fill="#242424" textLength="25.95" lengthAdjust="spacingAndGlyphs" >Orai2</text>
<text x="114.90" y="331.80" font-size="6.40" stroke="#242424" stroke-width="0.10" fill="#242424" textLength="38.10" lengthAdjust="spacingAndGlyphs" >ATP2B1</text>
<text x="115.20" y="343.80" font-size="6.40" stroke="#242424" stroke-width="0.10" fill="#242424" textLength="38.70" lengthAdjust="spacingAndGlyphs" >Slc24a4</text>
<text x="115.20" y="355.80" font-size="6.40" stroke="#242424" stroke-width="0.10" fill="#242424" textLength="37.80" lengthAdjust="spacingAndGlyphs" >Slc24a1</text>
<text x="115.20" y="367.80" font-size="6.40" stroke="#242424" stroke-width="0.10" fill="#242424" textLength="38.80" lengthAdjust="spacingAndGlyphs" >Slc24a2</text>
<text x="115.20" y="379.80" font-size="6.40" stroke="#242424" stroke-width="0.10" fill="#242424" textLength="38.80" lengthAdjust="spacingAndGlyphs" >Slc24a3</text>
<circle cx="152.50" cy="240.90" r="0.85" fill="#111"/>
<circle cx="152.50" cy="252.90" r="0.85" fill="#111"/>
<circle cx="153.00" cy="300.90" r="0.85" fill="#111"/>
<circle cx="152.00" cy="324.90" r="0.85" fill="#111"/>
<circle cx="154.00" cy="348.90" r="0.85" fill="#111"/>
<circle cx="155.00" cy="360.90" r="0.85" fill="#111"/>
<text x="178.10" y="393.40" font-size="5.60" stroke="#000" stroke-width="0.30" text-anchor="middle" font-weight="bold" font-style="italic" fill="#000" textLength="18.80" lengthAdjust="spacingAndGlyphs" >Stim1</text>
<text x="178.10" y="398.80" font-size="5.60" stroke="#000" stroke-width="0.30" text-anchor="middle" font-weight="bold" font-style="italic" fill="#000" textLength="11.00" lengthAdjust="spacingAndGlyphs" >cKO</text>
<text x="209.70" y="393.40" font-size="5.60" stroke="#000" stroke-width="0.30" text-anchor="middle" font-weight="bold" font-style="italic" fill="#000" textLength="18.80" lengthAdjust="spacingAndGlyphs" >Stim1</text>
<text x="209.70" y="398.80" font-size="5.60" stroke="#000" stroke-width="0.30" text-anchor="middle" font-weight="bold" font-style="italic" fill="#000" textLength="8.00" lengthAdjust="spacingAndGlyphs" >HT</text>
<text x="241.90" y="393.40" font-size="5.60" stroke="#000" stroke-width="0.30" text-anchor="middle" font-weight="bold" font-style="italic" fill="#000" textLength="18.80" lengthAdjust="spacingAndGlyphs" >Stim1</text>
<text x="241.90" y="398.80" font-size="5.60" stroke="#000" stroke-width="0.30" text-anchor="middle" font-weight="bold" font-style="italic" fill="#000" textLength="12.70" lengthAdjust="spacingAndGlyphs" >Ctrl</text>
<text x="266.00" y="180.20" font-size="9.20" stroke="#000" stroke-width="0.20" font-weight="bold" fill="#000" >E</text>
<rect x="314.20" y="177.60" width="25.80" height="205.00" fill="url(#hc7)" />
<rect x="340.00" y="177.60" width="28.80" height="205.00" fill="url(#hc8)" />
<rect x="368.80" y="177.60" width="28.70" height="205.00" fill="url(#hc9)" />
<rect x="339.60" y="177.60" width="0.90" height="205.00" fill="#ffffff" opacity="0.7"/>
<rect x="368.40" y="177.60" width="0.60" height="205.00" fill="#ffffff" opacity="0.25"/>
<text x="278.25" y="188.30" font-size="6.20" stroke="#242424" stroke-width="0.10" fill="#242424" textLength="27.25" lengthAdjust="spacingAndGlyphs" >mt–Ti</text>
<text x="264.00" y="203.40" font-size="6.20" stroke="#242424" stroke-width="0.10" fill="#242424" textLength="41.50" lengthAdjust="spacingAndGlyphs" >mt–Rnr2</text>
<text x="267.70" y="218.90" font-size="6.20" stroke="#242424" stroke-width="0.10" fill="#242424" textLength="37.80" lengthAdjust="spacingAndGlyphs" >mt–Nd3</text>
<text x="264.40" y="234.80" font-size="6.20" stroke="#242424" stroke-width="0.10" fill="#242424" textLength="39.00" lengthAdjust="spacingAndGlyphs" >mt–Rnr1</text>
<text x="275.00" y="251.00" font-size="6.20" stroke="#242424" stroke-width="0.10" fill="#242424" textLength="30.90" lengthAdjust="spacingAndGlyphs" >mt–Tw</text>
<text x="267.70" y="266.40" font-size="6.20" stroke="#242424" stroke-width="0.10" fill="#242424" textLength="37.80" lengthAdjust="spacingAndGlyphs" >mt–Co2</text>
<text x="267.70" y="281.90" font-size="6.20" stroke="#242424" stroke-width="0.10" fill="#242424" textLength="37.80" lengthAdjust="spacingAndGlyphs" >mt–Nd6</text>
<text x="267.70" y="297.80" font-size="6.20" stroke="#242424" stroke-width="0.10" fill="#242424" textLength="37.80" lengthAdjust="spacingAndGlyphs" >mt–Nd4</text>
<text x="265.30" y="313.65" font-size="6.20" stroke="#242424" stroke-width="0.10" fill="#242424" textLength="40.20" lengthAdjust="spacingAndGlyphs" >mt–Atp6</text>
<text x="265.60" y="329.30" font-size="6.20" stroke="#242424" stroke-width="0.10" fill="#242424" textLength="39.70" lengthAdjust="spacingAndGlyphs" >mt–Cytb</text>
<text x="268.00" y="345.40" font-size="6.20" stroke="#242424" stroke-width="0.10" fill="#242424" textLength="37.00" lengthAdjust="spacingAndGlyphs" >mt–Nd2</text>
<text x="268.00" y="361.00" font-size="6.20" stroke="#242424" stroke-width="0.10" fill="#242424" textLength="35.70" lengthAdjust="spacingAndGlyphs" >mt–Nd1</text>
<text x="268.00" y="376.70" font-size="6.20" stroke="#242424" stroke-width="0.10" fill="#242424" textLength="37.00" lengthAdjust="spacingAndGlyphs" >mt–Nd5</text>
<circle cx="304.00" cy="180.20" r="0.85" fill="#111"/>
<circle cx="304.00" cy="195.00" r="0.85" fill="#111"/>
<circle cx="304.00" cy="210.00" r="0.85" fill="#111"/>
<circle cx="305.50" cy="226.50" r="0.85" fill="#111"/>
<circle cx="303.40" cy="244.80" r="0.85" fill="#111"/>
<circle cx="304.00" cy="272.40" r="0.85" fill="#111"/>
<circle cx="304.00" cy="288.00" r="0.85" fill="#111"/>
<circle cx="302.20" cy="305.20" r="0.85" fill="#111"/>
<circle cx="304.00" cy="336.50" r="0.85" fill="#111"/>
<circle cx="303.00" cy="351.50" r="0.85" fill="#111"/>
<text x="322.40" y="392.00" font-size="5.60" stroke="#000" stroke-width="0.30" text-anchor="middle" font-weight="bold" font-style="italic" fill="#000" textLength="18.20" lengthAdjust="spacingAndGlyphs" >Stim1</text>
<text x="322.40" y="398.00" font-size="5.60" stroke="#000" stroke-width="0.30" text-anchor="middle" font-weight="bold" font-style="italic" fill="#000" textLength="13.40" lengthAdjust="spacingAndGlyphs" >cKO</text>
<text x="350.70" y="392.00" font-size="5.60" stroke="#000" stroke-width="0.30" text-anchor="middle" font-weight="bold" font-style="italic" fill="#000" textLength="18.20" lengthAdjust="spacingAndGlyphs" >Stim1</text>
<text x="350.70" y="398.00" font-size="5.60" stroke="#000" stroke-width="0.30" text-anchor="middle" font-weight="bold" font-style="italic" fill="#000" textLength="8.00" lengthAdjust="spacingAndGlyphs" >HT</text>
<text x="380.90" y="392.00" font-size="5.60" stroke="#000" stroke-width="0.30" text-anchor="middle" font-weight="bold" font-style="italic" fill="#000" textLength="18.20" lengthAdjust="spacingAndGlyphs" >Stim1</text>
<text x="380.90" y="398.00" font-size="5.60" stroke="#000" stroke-width="0.30" text-anchor="middle" font-weight="bold" font-style="italic" fill="#000" textLength="12.35" lengthAdjust="spacingAndGlyphs" >Ctrl</text>
</svg>
</body></html>
